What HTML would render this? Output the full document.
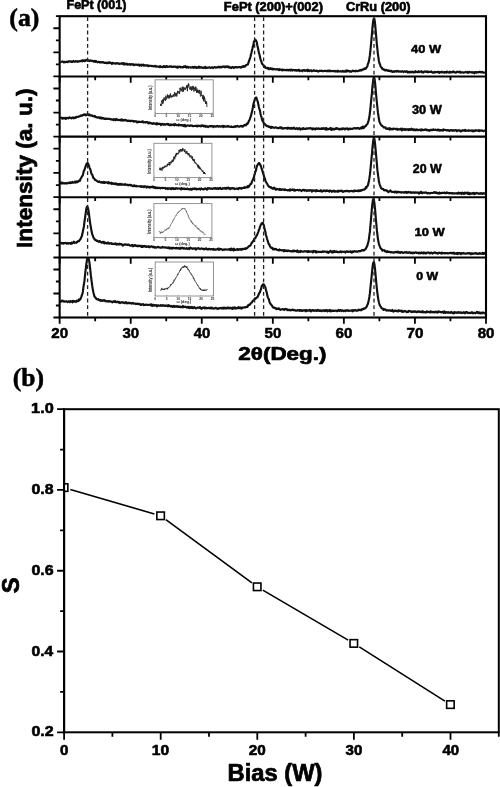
<!DOCTYPE html>
<html><head><meta charset="utf-8"><style>
html,body{margin:0;padding:0;background:#fff;}
svg{display:block;}
</style></head><body>
<svg width="500" height="787" viewBox="0 0 500 787">
<rect width="500" height="787" fill="#fff"/>
<g id="pa">
<polyline points="60.4,61.96 60.9,62.06 61.4,61.86 61.9,61.64 62.4,61.79 62.9,61.60 63.4,61.97 63.9,62.42 64.4,61.77 64.9,61.72 65.4,62.11 65.9,62.06 66.4,61.97 66.9,61.60 67.4,61.92 67.9,62.16 68.4,61.45 68.9,61.75 69.4,61.24 69.9,61.44 70.4,61.24 70.9,61.79 71.4,61.42 71.9,61.94 72.4,61.89 72.9,61.75 73.4,60.91 73.9,61.58 74.4,61.72 74.9,61.75 75.4,61.14 75.9,61.48 76.4,61.26 76.9,61.28 77.4,61.89 77.9,61.18 78.4,61.40 78.9,61.66 79.4,61.08 79.9,61.17 80.4,61.17 80.9,61.08 81.4,60.55 81.9,60.93 82.4,61.30 82.9,60.21 83.4,60.97 83.9,60.65 84.4,60.32 84.9,61.19 85.4,60.71 85.9,59.99 86.4,60.41 86.9,60.58 87.4,60.32 87.9,60.65 88.4,60.43 88.9,60.73 89.4,61.06 89.9,60.39 90.4,60.78 90.9,60.63 91.4,60.93 91.9,60.56 92.4,60.87 92.9,61.10 93.4,61.57 93.9,61.75 94.4,60.98 94.9,61.25 95.4,61.83 95.9,60.99 96.4,61.60 96.9,61.79 97.4,62.33 97.9,62.19 98.4,61.89 98.9,61.92 99.4,62.01 99.9,62.67 100.4,62.04 100.9,62.15 101.4,62.43 101.9,62.32 102.4,62.34 102.9,62.07 103.4,62.50 103.9,62.39 104.4,63.00 104.9,62.86 105.4,62.66 105.9,62.94 106.4,62.63 106.9,63.15 107.4,62.82 107.9,63.06 108.4,62.44 108.9,63.05 109.4,62.38 109.9,62.29 110.4,62.93 110.9,62.76 111.4,63.16 111.9,63.93 112.4,62.89 112.9,62.99 113.4,63.32 113.9,63.45 114.4,63.25 114.9,63.28 115.4,63.63 115.9,63.60 116.4,63.09 116.9,63.46 117.4,63.53 117.9,63.19 118.4,63.68 118.9,63.32 119.4,64.00 119.9,63.76 120.4,63.76 120.9,63.55 121.4,63.75 121.9,63.13 122.4,63.46 122.9,64.02 123.4,63.18 123.9,64.26 124.4,63.38 124.9,64.29 125.4,63.77 125.9,64.37 126.4,64.18 126.9,63.63 127.4,64.63 127.9,64.73 128.4,64.24 128.9,64.20 129.4,64.28 129.9,64.02 130.4,64.79 130.9,64.25 131.4,64.46 131.9,64.23 132.4,64.33 132.9,64.14 133.4,65.06 133.9,64.60 134.4,65.03 134.9,64.74 135.4,64.53 135.9,64.69 136.4,64.65 136.9,64.88 137.4,64.78 137.9,64.85 138.4,64.51 138.9,64.74 139.4,65.64 139.9,64.86 140.4,64.77 140.9,65.29 141.4,65.70 141.9,64.74 142.4,65.21 142.9,65.10 143.4,64.74 143.9,65.65 144.4,65.42 144.9,65.49 145.4,65.24 145.9,65.70 146.4,65.39 146.9,65.56 147.4,65.26 147.9,65.26 148.4,66.19 148.9,65.58 149.4,65.90 149.9,65.82 150.4,65.71 150.9,65.73 151.4,66.16 151.9,65.87 152.4,65.96 152.9,66.06 153.4,66.50 153.9,66.36 154.4,66.29 154.9,66.00 155.4,65.75 155.9,66.60 156.4,66.64 156.9,66.29 157.4,66.57 157.9,66.69 158.4,66.74 158.9,66.81 159.4,66.37 159.9,67.09 160.4,66.14 160.9,66.89 161.4,66.77 161.9,66.92 162.4,67.28 162.9,67.16 163.4,66.25 163.9,66.07 164.4,66.96 164.9,66.33 165.4,66.69 165.9,67.01 166.4,66.15 166.9,66.00 167.4,66.84 167.9,66.78 168.4,66.69 168.9,66.80 169.4,66.50 169.9,66.28 170.4,66.76 170.9,66.49 171.4,66.27 171.9,67.03 172.4,66.85 172.9,67.02 173.4,66.55 173.9,66.68 174.4,66.57 174.9,66.62 175.4,67.01 175.9,66.68 176.4,67.09 176.9,67.10 177.4,67.70 177.9,66.52 178.4,67.33 178.9,67.00 179.4,67.03 179.9,66.54 180.4,66.90 180.9,67.33 181.4,67.06 181.9,67.13 182.4,67.01 182.9,67.53 183.4,67.13 183.9,66.38 184.4,66.92 184.9,66.48 185.4,66.04 185.9,67.01 186.4,67.67 186.9,67.23 187.4,66.82 187.9,66.91 188.4,67.65 188.9,67.32 189.4,67.29 189.9,67.27 190.4,67.31 190.9,67.59 191.4,67.52 191.9,67.41 192.4,66.98 192.9,67.54 193.4,67.13 193.9,67.76 194.4,66.95 194.9,67.36 195.4,67.41 195.9,66.96 196.4,68.04 196.9,67.96 197.4,67.30 197.9,67.74 198.4,67.62 198.9,66.58 199.4,67.59 199.9,67.50 200.4,67.55 200.9,67.14 201.4,67.42 201.9,67.45 202.4,67.93 202.9,67.63 203.4,67.51 203.9,68.04 204.4,67.31 204.9,67.37 205.4,66.87 205.9,68.05 206.4,67.84 206.9,67.82 207.4,67.73 207.9,67.53 208.4,67.57 208.9,67.40 209.4,67.41 209.9,67.50 210.4,68.01 210.9,67.67 211.4,67.46 211.9,67.27 212.4,67.25 212.9,68.03 213.4,67.64 213.9,67.48 214.4,67.33 214.9,67.06 215.4,67.41 215.9,67.73 216.4,67.27 216.9,67.31 217.4,67.29 217.9,67.38 218.4,66.75 218.9,67.18 219.4,66.91 219.9,67.46 220.4,66.82 220.9,67.23 221.4,67.50 221.9,66.79 222.4,66.62 222.9,66.84 223.4,66.72 223.9,66.34 224.4,66.82 224.9,67.36 225.4,66.57 225.9,66.62 226.4,66.36 226.9,66.89 227.4,66.41 227.9,66.52 228.4,67.43 228.9,66.73 229.4,67.50 229.9,67.71 230.4,67.32 230.9,67.47 231.4,67.99 231.9,67.27 232.4,67.15 232.9,66.90 233.4,67.39 233.9,67.89 234.4,67.71 234.9,67.04 235.4,67.05 235.9,67.16 236.4,67.43 236.9,67.23 237.4,67.35 237.9,67.36 238.4,67.12 238.9,67.18 239.4,67.23 239.9,67.08 240.4,67.26 240.9,67.70 241.4,67.21 241.9,66.98 242.4,66.31 242.9,66.96 243.4,66.05 243.9,66.12 244.4,66.77 244.9,66.54 245.4,66.01 245.9,65.17 246.4,65.27 246.9,64.69 247.4,64.56 247.9,64.39 248.4,62.78 248.9,61.34 249.4,59.91 249.9,58.78 250.4,57.01 250.9,54.73 251.4,53.06 251.9,50.37 252.4,48.85 252.9,46.54 253.4,44.41 253.9,42.01 254.4,40.96 254.9,39.93 255.4,39.73 255.9,40.34 256.4,41.23 256.9,42.92 257.4,45.80 257.9,47.76 258.4,50.27 258.9,52.89 259.4,54.16 259.9,56.56 260.4,58.76 260.9,60.49 261.4,61.66 261.9,63.38 262.4,64.12 262.9,64.48 263.4,65.28 263.9,66.46 264.4,66.80 264.9,66.35 265.4,67.79 265.9,67.78 266.4,68.25 266.9,67.83 267.4,68.01 267.9,67.86 268.4,69.26 268.9,68.42 269.4,69.14 269.9,68.45 270.4,68.82 270.9,68.25 271.4,68.78 271.9,69.33 272.4,68.62 272.9,69.49 273.4,69.30 273.9,68.88 274.4,69.12 274.9,69.19 275.4,69.39 275.9,69.27 276.4,69.22 276.9,69.45 277.4,69.24 277.9,69.19 278.4,69.67 278.9,70.04 279.4,69.24 279.9,69.82 280.4,69.62 280.9,69.53 281.4,70.19 281.9,69.73 282.4,70.46 282.9,69.69 283.4,70.11 283.9,69.92 284.4,69.76 284.9,70.25 285.4,70.00 285.9,70.29 286.4,70.08 286.9,69.73 287.4,70.10 287.9,70.17 288.4,70.50 288.9,69.87 289.4,70.19 289.9,69.61 290.4,70.46 290.9,69.87 291.4,69.63 291.9,70.26 292.4,70.68 292.9,69.78 293.4,69.95 293.9,70.08 294.4,69.96 294.9,70.50 295.4,70.10 295.9,70.15 296.4,70.62 296.9,70.16 297.4,70.59 297.9,70.12 298.4,70.05 298.9,69.84 299.4,71.15 299.9,70.40 300.4,70.61 300.9,70.53 301.4,70.61 301.9,70.58 302.4,71.25 302.9,70.23 303.4,70.06 303.9,70.26 304.4,70.16 304.9,70.90 305.4,70.94 305.9,70.33 306.4,70.19 306.9,70.57 307.4,71.19 307.9,69.73 308.4,70.91 308.9,70.37 309.4,71.12 309.9,70.39 310.4,70.68 310.9,70.26 311.4,70.46 311.9,71.30 312.4,71.11 312.9,70.70 313.4,70.54 313.9,70.20 314.4,70.74 314.9,70.87 315.4,70.87 315.9,70.87 316.4,70.53 316.9,70.91 317.4,70.93 317.9,71.40 318.4,71.62 318.9,70.93 319.4,70.72 319.9,70.97 320.4,70.80 320.9,70.76 321.4,71.01 321.9,70.67 322.4,71.26 322.9,71.02 323.4,71.16 323.9,71.02 324.4,70.84 324.9,70.77 325.4,71.03 325.9,70.93 326.4,71.22 326.9,71.14 327.4,70.68 327.9,71.19 328.4,70.70 328.9,70.97 329.4,71.09 329.9,70.48 330.4,71.24 330.9,71.27 331.4,71.17 331.9,71.09 332.4,71.12 332.9,70.91 333.4,71.17 333.9,71.08 334.4,71.31 334.9,70.87 335.4,71.38 335.9,71.36 336.4,71.26 336.9,71.17 337.4,71.52 337.9,70.75 338.4,71.50 338.9,71.43 339.4,71.45 339.9,71.49 340.4,71.13 340.9,71.26 341.4,71.57 341.9,71.50 342.4,71.41 342.9,70.81 343.4,71.52 343.9,71.74 344.4,71.67 344.9,71.40 345.4,70.76 345.9,71.63 346.4,71.24 346.9,70.40 347.4,71.40 347.9,70.74 348.4,70.80 348.9,71.02 349.4,71.67 349.9,71.08 350.4,71.29 350.9,71.79 351.4,71.72 351.9,71.11 352.4,71.04 352.9,70.66 353.4,70.84 353.9,71.21 354.4,71.17 354.9,71.04 355.4,71.32 355.9,70.66 356.4,70.88 356.9,71.11 357.4,71.01 357.9,71.14 358.4,70.84 358.9,70.54 359.4,70.71 359.9,70.16 360.4,69.85 360.9,70.54 361.4,70.21 361.9,70.23 362.4,69.40 362.9,69.72 363.4,69.47 363.9,69.19 364.4,68.47 364.9,68.88 365.4,68.98 365.9,68.38 366.4,67.50 366.9,67.00 367.4,66.33 367.9,63.84 368.4,63.09 368.9,61.13 369.4,58.36 369.9,55.19 370.4,50.73 370.9,45.48 371.4,39.93 371.9,34.22 372.4,27.97 372.9,23.06 373.4,19.76 373.9,18.65 374.4,18.91 374.9,22.20 375.4,27.15 375.9,33.25 376.4,38.68 376.9,44.85 377.4,49.10 377.9,53.78 378.4,57.45 378.9,60.75 379.4,63.16 379.9,64.04 380.4,65.59 380.9,67.03 381.4,67.43 381.9,67.70 382.4,69.04 382.9,69.20 383.4,69.49 383.9,69.39 384.4,70.11 384.9,69.85 385.4,70.47 385.9,69.90 386.4,70.04 386.9,70.52 387.4,70.30 387.9,70.87 388.4,70.81 388.9,70.47 389.4,70.88 389.9,70.80 390.4,71.29 390.9,70.80 391.4,70.92 391.9,71.54 392.4,71.94 392.9,71.89 393.4,71.25 393.9,71.34 394.4,71.83 394.9,71.28 395.4,71.01 395.9,71.42 396.4,71.56 396.9,71.13 397.4,70.87 397.9,70.96 398.4,71.72 398.9,71.24 399.4,71.47 399.9,71.61 400.4,71.77 400.9,71.45 401.4,71.76 401.9,71.29 402.4,71.48 402.9,71.27 403.4,72.03 403.9,71.64 404.4,71.40 404.9,71.55 405.4,71.61 405.9,71.94 406.4,71.15 406.9,71.35 407.4,71.60 407.9,72.62 408.4,72.08 408.9,71.72 409.4,72.01 409.9,72.49 410.4,71.70 410.9,71.66 411.4,72.22 411.9,71.98 412.4,72.05 412.9,71.64 413.4,72.50 413.9,72.44 414.4,72.04 414.9,72.09 415.4,71.15 415.9,72.09 416.4,71.80 416.9,72.03 417.4,72.12 417.9,71.77 418.4,71.31 418.9,72.03 419.4,71.65 419.9,71.80 420.4,71.71 420.9,71.81 421.4,71.13 421.9,72.37 422.4,72.03 422.9,72.34 423.4,72.65 423.9,71.97 424.4,71.34 424.9,71.66 425.4,71.56 425.9,71.81 426.4,72.02 426.9,71.29 427.4,72.12 427.9,71.48 428.4,72.11 428.9,71.98 429.4,71.91 429.9,72.00 430.4,71.84 430.9,71.82 431.4,71.45 431.9,72.03 432.4,72.69 432.9,72.75 433.4,72.52 433.9,72.31 434.4,71.83 434.9,72.58 435.4,72.06 435.9,72.06 436.4,71.98 436.9,72.12 437.4,71.94 437.9,72.07 438.4,71.72 438.9,71.98 439.4,72.91 439.9,72.09 440.4,72.04 440.9,72.31 441.4,72.38 441.9,71.74 442.4,72.07 442.9,72.46 443.4,72.24 443.9,72.19 444.4,72.70 444.9,71.92 445.4,72.19 445.9,71.99 446.4,72.69 446.9,71.49 447.4,71.95 447.9,72.00 448.4,72.42 448.9,72.40 449.4,72.68 449.9,71.65 450.4,72.47 450.9,72.11 451.4,71.98 451.9,72.41 452.4,71.90 452.9,71.50 453.4,72.10 453.9,71.71 454.4,72.01 454.9,72.37 455.4,72.35 455.9,72.80 456.4,72.18 456.9,71.72 457.4,72.00 457.9,71.94 458.4,71.84 458.9,72.42 459.4,72.05 459.9,71.59 460.4,72.53 460.9,72.25 461.4,72.42 461.9,72.33 462.4,72.52 462.9,72.32 463.4,72.74 463.9,72.46 464.4,72.45 464.9,72.46 465.4,71.81 465.9,72.27 466.4,72.24 466.9,72.41 467.4,71.86 467.9,72.91 468.4,72.38 468.9,71.93 469.4,71.75 469.9,72.26 470.4,72.33 470.9,72.11 471.4,72.40 471.9,72.15 472.4,72.57 472.9,72.13 473.4,72.37 473.9,72.73 474.4,73.29 474.9,72.04 475.4,72.24 475.9,72.11 476.4,72.68 476.9,72.01 477.4,72.24 477.9,72.41 478.4,72.08 478.9,72.09 479.4,72.26 479.9,71.70 480.4,71.93 480.9,72.29 481.4,72.49 481.9,72.38 482.4,71.83 482.9,72.29 483.4,72.74 483.9,72.66 484.4,72.44 484.9,72.16" fill="none" stroke="#111" stroke-width="2.15" stroke-linejoin="round"/>
<polyline points="60.4,118.33 60.9,117.90 61.4,117.69 61.9,117.82 62.4,118.60 62.9,118.16 63.4,118.49 63.9,117.91 64.4,118.40 64.9,117.86 65.4,118.00 65.9,118.92 66.4,118.31 66.9,117.86 67.4,117.99 67.9,118.12 68.4,118.42 68.9,117.80 69.4,117.35 69.9,117.83 70.4,117.91 70.9,117.91 71.4,118.30 71.9,117.91 72.4,118.04 72.9,117.32 73.4,117.95 73.9,118.31 74.4,117.78 74.9,117.52 75.4,117.39 75.9,117.86 76.4,116.81 76.9,116.98 77.4,117.05 77.9,117.02 78.4,116.46 78.9,116.57 79.4,116.21 79.9,116.18 80.4,115.93 80.9,115.41 81.4,115.64 81.9,115.79 82.4,114.98 82.9,115.08 83.4,115.25 83.9,114.50 84.4,114.82 84.9,114.28 85.4,114.96 85.9,115.32 86.4,115.18 86.9,114.38 87.4,114.73 87.9,114.56 88.4,114.62 88.9,115.21 89.4,114.32 89.9,115.28 90.4,115.04 90.9,115.70 91.4,115.44 91.9,115.31 92.4,115.82 92.9,116.16 93.4,116.09 93.9,116.42 94.4,116.23 94.9,115.83 95.4,117.05 95.9,117.13 96.4,117.08 96.9,117.18 97.4,117.64 97.9,117.24 98.4,117.25 98.9,117.53 99.4,118.10 99.9,117.28 100.4,118.28 100.9,117.74 101.4,117.67 101.9,118.58 102.4,118.19 102.9,117.84 103.4,118.25 103.9,118.76 104.4,118.92 104.9,118.41 105.4,118.76 105.9,118.93 106.4,118.50 106.9,118.90 107.4,118.82 107.9,118.69 108.4,118.76 108.9,119.00 109.4,119.03 109.9,118.87 110.4,118.96 110.9,119.55 111.4,119.28 111.9,119.55 112.4,119.71 112.9,119.54 113.4,120.17 113.9,119.13 114.4,119.74 114.9,119.39 115.4,120.20 115.9,120.18 116.4,118.95 116.9,119.33 117.4,119.95 117.9,120.03 118.4,120.06 118.9,119.81 119.4,120.04 119.9,120.15 120.4,119.94 120.9,120.37 121.4,119.26 121.9,120.31 122.4,119.77 122.9,120.51 123.4,120.13 123.9,119.94 124.4,120.42 124.9,120.02 125.4,120.06 125.9,119.87 126.4,120.45 126.9,120.67 127.4,120.90 127.9,120.53 128.4,120.99 128.9,120.67 129.4,120.67 129.9,120.94 130.4,121.17 130.9,120.74 131.4,120.83 131.9,120.91 132.4,121.06 132.9,120.77 133.4,121.50 133.9,121.06 134.4,121.42 134.9,121.02 135.4,121.50 135.9,121.56 136.4,121.34 136.9,122.25 137.4,121.73 137.9,122.28 138.4,122.05 138.9,121.54 139.4,121.69 139.9,122.04 140.4,121.96 140.9,122.01 141.4,121.95 141.9,121.48 142.4,122.09 142.9,121.45 143.4,122.41 143.9,122.08 144.4,122.14 144.9,122.37 145.4,122.60 145.9,122.06 146.4,122.01 146.9,122.30 147.4,122.02 147.9,122.45 148.4,123.40 148.9,122.54 149.4,123.19 149.9,122.54 150.4,123.18 150.9,123.02 151.4,123.17 151.9,123.44 152.4,123.92 152.9,123.43 153.4,123.46 153.9,123.13 154.4,123.73 154.9,123.50 155.4,123.93 155.9,123.68 156.4,124.36 156.9,123.12 157.4,123.76 157.9,124.23 158.4,123.86 158.9,123.76 159.4,124.00 159.9,123.67 160.4,124.22 160.9,125.06 161.4,124.63 161.9,123.87 162.4,123.98 162.9,124.17 163.4,124.69 163.9,124.08 164.4,124.15 164.9,124.73 165.4,124.75 165.9,124.34 166.4,124.11 166.9,123.98 167.4,124.31 167.9,123.80 168.4,124.87 168.9,124.41 169.4,124.82 169.9,125.34 170.4,125.12 170.9,124.33 171.4,125.07 171.9,125.19 172.4,124.55 172.9,124.51 173.4,124.83 173.9,124.33 174.4,125.43 174.9,124.10 175.4,124.58 175.9,124.90 176.4,124.94 176.9,125.11 177.4,125.17 177.9,125.03 178.4,125.53 178.9,124.41 179.4,125.18 179.9,124.96 180.4,125.28 180.9,125.34 181.4,124.97 181.9,125.09 182.4,125.62 182.9,125.49 183.4,125.15 183.9,126.13 184.4,126.25 184.9,124.96 185.4,125.60 185.9,126.40 186.4,125.82 186.9,125.65 187.4,125.53 187.9,125.43 188.4,125.58 188.9,125.48 189.4,125.96 189.9,125.59 190.4,125.59 190.9,125.34 191.4,125.75 191.9,125.47 192.4,125.74 192.9,126.18 193.4,125.96 193.9,126.02 194.4,125.98 194.9,125.89 195.4,125.84 195.9,125.79 196.4,126.18 196.9,125.55 197.4,126.41 197.9,125.96 198.4,125.70 198.9,125.81 199.4,125.76 199.9,126.06 200.4,125.77 200.9,126.43 201.4,125.77 201.9,125.27 202.4,125.82 202.9,125.38 203.4,126.09 203.9,126.48 204.4,126.35 204.9,125.67 205.4,125.89 205.9,126.79 206.4,126.29 206.9,126.19 207.4,126.58 207.9,127.08 208.4,126.68 208.9,126.29 209.4,126.38 209.9,126.48 210.4,126.07 210.9,125.92 211.4,126.32 211.9,125.99 212.4,126.31 212.9,126.38 213.4,127.17 213.9,126.07 214.4,126.33 214.9,126.33 215.4,126.55 215.9,126.78 216.4,126.25 216.9,126.15 217.4,125.87 217.9,126.13 218.4,126.65 218.9,126.49 219.4,126.13 219.9,126.37 220.4,126.52 220.9,126.69 221.4,126.32 221.9,126.45 222.4,125.91 222.9,126.15 223.4,127.12 223.9,125.80 224.4,126.46 224.9,126.66 225.4,126.46 225.9,126.31 226.4,126.58 226.9,126.60 227.4,126.58 227.9,125.96 228.4,126.57 228.9,126.32 229.4,126.43 229.9,126.71 230.4,126.85 230.9,126.94 231.4,126.45 231.9,126.94 232.4,127.02 232.9,127.00 233.4,127.09 233.9,126.54 234.4,126.52 234.9,126.86 235.4,126.08 235.9,126.62 236.4,126.34 236.9,126.38 237.4,125.88 237.9,126.15 238.4,126.43 238.9,126.72 239.4,126.72 239.9,126.31 240.4,126.23 240.9,125.95 241.4,126.33 241.9,126.04 242.4,126.26 242.9,126.58 243.4,125.85 243.9,125.22 244.4,125.30 244.9,124.91 245.4,124.78 245.9,125.39 246.4,124.67 246.9,123.63 247.4,123.87 247.9,123.44 248.4,122.08 248.9,121.01 249.4,119.99 249.9,118.88 250.4,117.47 250.9,115.92 251.4,114.00 251.9,111.89 252.4,109.72 252.9,107.18 253.4,104.13 253.9,102.46 254.4,100.69 254.9,98.92 255.4,98.36 255.9,97.53 256.4,97.61 256.9,99.36 257.4,100.55 257.9,102.27 258.4,104.67 258.9,107.01 259.4,109.08 259.9,110.37 260.4,113.15 260.9,115.22 261.4,116.85 261.9,118.86 262.4,120.61 262.9,121.22 263.4,122.01 263.9,123.96 264.4,123.79 264.9,124.09 265.4,125.08 265.9,125.52 266.4,125.44 266.9,126.22 267.4,125.98 267.9,126.00 268.4,126.54 268.9,126.88 269.4,126.50 269.9,126.94 270.4,126.88 270.9,127.98 271.4,126.82 271.9,127.62 272.4,127.18 272.9,127.22 273.4,127.57 273.9,127.69 274.4,127.87 274.9,127.58 275.4,127.30 275.9,127.37 276.4,127.77 276.9,127.84 277.4,128.16 277.9,127.85 278.4,128.11 278.9,128.30 279.4,127.86 279.9,127.31 280.4,127.45 280.9,127.39 281.4,128.48 281.9,127.65 282.4,128.40 282.9,128.20 283.4,128.62 283.9,128.40 284.4,128.03 284.9,128.02 285.4,128.14 285.9,128.20 286.4,127.97 286.9,128.16 287.4,128.76 287.9,127.62 288.4,128.33 288.9,127.94 289.4,128.34 289.9,128.59 290.4,128.29 290.9,128.60 291.4,127.79 291.9,128.75 292.4,128.17 292.9,128.62 293.4,128.48 293.9,127.53 294.4,128.19 294.9,128.55 295.4,129.03 295.9,128.60 296.4,128.61 296.9,128.04 297.4,129.05 297.9,129.20 298.4,128.59 298.9,128.52 299.4,128.04 299.9,128.94 300.4,129.58 300.9,128.89 301.4,129.09 301.9,128.84 302.4,128.31 302.9,129.13 303.4,128.24 303.9,128.60 304.4,128.78 304.9,128.99 305.4,128.84 305.9,128.83 306.4,128.44 306.9,128.26 307.4,128.73 307.9,128.47 308.4,128.26 308.9,128.28 309.4,128.56 309.9,128.09 310.4,128.27 310.9,128.17 311.4,128.81 311.9,128.90 312.4,129.46 312.9,128.24 313.4,128.53 313.9,129.09 314.4,128.70 314.9,128.67 315.4,129.38 315.9,128.67 316.4,128.39 316.9,128.33 317.4,128.92 317.9,128.91 318.4,128.33 318.9,128.47 319.4,129.00 319.9,129.02 320.4,128.60 320.9,129.04 321.4,129.03 321.9,128.21 322.4,128.73 322.9,128.98 323.4,128.64 323.9,128.09 324.4,128.75 324.9,129.11 325.4,129.41 325.9,128.09 326.4,129.77 326.9,128.47 327.4,129.20 327.9,129.30 328.4,129.21 328.9,128.92 329.4,128.46 329.9,129.09 330.4,128.62 330.9,127.99 331.4,129.87 331.9,129.13 332.4,129.52 332.9,128.56 333.4,129.40 333.9,129.44 334.4,129.43 334.9,128.88 335.4,128.47 335.9,128.82 336.4,128.12 336.9,128.29 337.4,128.92 337.9,128.54 338.4,128.83 338.9,128.85 339.4,129.56 339.9,129.34 340.4,128.87 340.9,129.30 341.4,128.60 341.9,128.76 342.4,129.19 342.9,128.43 343.4,128.77 343.9,128.40 344.4,128.90 344.9,129.42 345.4,128.58 345.9,128.92 346.4,128.52 346.9,128.43 347.4,128.39 347.9,129.32 348.4,129.63 348.9,128.96 349.4,128.53 349.9,129.02 350.4,128.64 350.9,129.03 351.4,128.83 351.9,128.81 352.4,128.91 352.9,128.48 353.4,128.52 353.9,128.03 354.4,128.46 354.9,128.09 355.4,128.50 355.9,128.19 356.4,128.52 356.9,128.61 357.4,127.91 357.9,128.08 358.4,127.98 358.9,128.51 359.4,128.79 359.9,128.42 360.4,127.92 360.9,128.47 361.4,127.33 361.9,128.28 362.4,127.40 362.9,126.52 363.4,128.26 363.9,127.70 364.4,126.57 364.9,126.74 365.4,126.28 365.9,125.99 366.4,124.92 366.9,124.52 367.4,124.02 367.9,122.72 368.4,121.44 368.9,118.93 369.4,117.00 369.9,112.53 370.4,108.75 370.9,103.19 371.4,98.06 371.9,93.29 372.4,86.90 372.9,82.50 373.4,78.79 373.9,77.25 374.4,78.23 374.9,81.32 375.4,86.03 375.9,91.98 376.4,97.65 376.9,102.68 377.4,107.49 377.9,112.18 378.4,115.59 378.9,118.85 379.4,121.66 379.9,122.75 380.4,123.73 380.9,124.66 381.4,125.15 381.9,125.68 382.4,126.08 382.9,126.63 383.4,126.89 383.9,127.54 384.4,127.33 384.9,127.58 385.4,127.37 385.9,128.51 386.4,128.23 386.9,128.78 387.4,128.53 387.9,128.86 388.4,128.33 388.9,128.74 389.4,129.50 389.9,128.19 390.4,129.08 390.9,129.32 391.4,128.92 391.9,129.08 392.4,129.30 392.9,128.66 393.4,129.08 393.9,128.65 394.4,128.75 394.9,128.80 395.4,129.00 395.9,129.13 396.4,129.26 396.9,128.62 397.4,129.86 397.9,129.58 398.4,129.45 398.9,129.08 399.4,129.19 399.9,129.44 400.4,129.41 400.9,128.68 401.4,129.57 401.9,130.37 402.4,128.68 402.9,129.72 403.4,129.51 403.9,129.35 404.4,129.90 404.9,129.00 405.4,129.50 405.9,129.98 406.4,129.40 406.9,129.34 407.4,129.54 407.9,129.36 408.4,130.09 408.9,129.22 409.4,129.87 409.9,129.12 410.4,129.82 410.9,129.56 411.4,128.68 411.9,129.62 412.4,129.25 412.9,129.49 413.4,130.21 413.9,129.27 414.4,129.30 414.9,130.21 415.4,129.75 415.9,130.27 416.4,129.84 416.9,129.42 417.4,129.73 417.9,130.20 418.4,130.11 418.9,129.78 419.4,129.81 419.9,129.76 420.4,129.61 420.9,130.52 421.4,129.84 421.9,129.44 422.4,129.68 422.9,130.13 423.4,130.11 423.9,129.84 424.4,129.66 424.9,129.92 425.4,129.31 425.9,129.46 426.4,130.22 426.9,129.77 427.4,130.09 427.9,130.40 428.4,130.21 428.9,129.99 429.4,130.76 429.9,130.24 430.4,129.89 430.9,130.29 431.4,130.18 431.9,129.73 432.4,130.08 432.9,130.00 433.4,129.36 433.9,130.02 434.4,129.99 434.9,129.94 435.4,129.52 435.9,129.99 436.4,130.11 436.9,130.17 437.4,129.73 437.9,130.38 438.4,129.72 438.9,130.09 439.4,130.65 439.9,129.94 440.4,130.01 440.9,130.59 441.4,130.08 441.9,130.12 442.4,130.31 442.9,130.62 443.4,129.46 443.9,129.96 444.4,129.91 444.9,129.89 445.4,129.98 445.9,129.99 446.4,130.41 446.9,129.99 447.4,130.37 447.9,130.47 448.4,130.08 448.9,130.39 449.4,130.94 449.9,130.48 450.4,130.15 450.9,130.36 451.4,130.06 451.9,130.50 452.4,130.72 452.9,130.12 453.4,130.35 453.9,130.83 454.4,130.27 454.9,130.52 455.4,130.09 455.9,130.18 456.4,130.29 456.9,131.25 457.4,130.35 457.9,130.32 458.4,130.32 458.9,130.46 459.4,130.76 459.9,130.60 460.4,131.27 460.9,130.63 461.4,131.07 461.9,130.67 462.4,130.79 462.9,130.08 463.4,130.55 463.9,130.58 464.4,130.53 464.9,129.87 465.4,130.94 465.9,130.50 466.4,130.49 466.9,130.57 467.4,130.59 467.9,130.82 468.4,130.24 468.9,130.36 469.4,130.80 469.9,130.76 470.4,130.58 470.9,130.52 471.4,130.44 471.9,130.72 472.4,131.16 472.9,130.39 473.4,131.30 473.9,131.07 474.4,130.62 474.9,131.07 475.4,130.29 475.9,130.20 476.4,130.37 476.9,130.68 477.4,130.72 477.9,130.66 478.4,130.88 478.9,130.11 479.4,131.04 479.9,130.38 480.4,130.65 480.9,130.75 481.4,130.50 481.9,130.43 482.4,130.56 482.9,130.92 483.4,131.14 483.9,131.14 484.4,130.60 484.9,130.68" fill="none" stroke="#111" stroke-width="2.15" stroke-linejoin="round"/>
<polyline points="60.4,182.86 60.9,183.33 61.4,182.45 61.9,183.58 62.4,182.96 62.9,182.85 63.4,183.22 63.9,183.45 64.4,183.19 64.9,183.42 65.4,183.09 65.9,183.45 66.4,183.44 66.9,182.95 67.4,183.46 67.9,182.99 68.4,182.94 68.9,182.56 69.4,182.76 69.9,183.10 70.4,182.34 70.9,182.99 71.4,182.85 71.9,182.79 72.4,181.88 72.9,182.57 73.4,182.78 73.9,182.23 74.4,182.46 74.9,181.53 75.4,182.51 75.9,181.95 76.4,182.37 76.9,181.28 77.4,182.00 77.9,181.46 78.4,181.57 78.9,180.64 79.4,180.34 79.9,180.84 80.4,179.15 80.9,178.45 81.4,177.72 81.9,176.43 82.4,176.03 82.9,174.90 83.4,172.61 83.9,170.72 84.4,170.15 84.9,168.54 85.4,166.93 85.9,165.72 86.4,163.96 86.9,163.54 87.4,162.91 87.9,163.16 88.4,164.71 88.9,165.20 89.4,167.57 89.9,168.28 90.4,169.59 90.9,171.63 91.4,173.46 91.9,174.38 92.4,175.03 92.9,176.69 93.4,178.00 93.9,178.16 94.4,178.74 94.9,179.92 95.4,180.11 95.9,180.08 96.4,180.67 96.9,180.81 97.4,181.40 97.9,181.52 98.4,182.04 98.9,182.02 99.4,181.34 99.9,182.13 100.4,182.39 100.9,182.32 101.4,182.60 101.9,182.11 102.4,182.04 102.9,182.76 103.4,182.12 103.9,181.80 104.4,182.97 104.9,182.41 105.4,182.60 105.9,182.27 106.4,182.34 106.9,182.45 107.4,182.77 107.9,183.07 108.4,182.17 108.9,183.28 109.4,182.65 109.9,182.72 110.4,183.39 110.9,183.19 111.4,182.74 111.9,183.98 112.4,183.10 112.9,183.54 113.4,183.58 113.9,184.07 114.4,183.47 114.9,184.04 115.4,183.48 115.9,184.19 116.4,183.59 116.9,183.78 117.4,184.63 117.9,184.13 118.4,184.11 118.9,184.91 119.4,184.31 119.9,183.95 120.4,184.55 120.9,183.93 121.4,184.79 121.9,184.87 122.4,184.30 122.9,184.34 123.4,184.67 123.9,184.67 124.4,184.37 124.9,184.97 125.4,184.11 125.9,184.72 126.4,184.79 126.9,184.88 127.4,185.14 127.9,184.65 128.4,185.34 128.9,185.12 129.4,185.01 129.9,184.81 130.4,184.92 130.9,185.51 131.4,185.09 131.9,185.49 132.4,185.89 132.9,185.92 133.4,186.15 133.9,185.55 134.4,185.31 134.9,186.10 135.4,185.89 135.9,186.22 136.4,185.88 136.9,186.33 137.4,186.26 137.9,186.26 138.4,186.23 138.9,186.23 139.4,186.22 139.9,186.26 140.4,186.57 140.9,186.09 141.4,186.92 141.9,186.32 142.4,186.75 142.9,186.41 143.4,186.40 143.9,187.24 144.4,186.47 144.9,186.17 145.4,186.42 145.9,186.60 146.4,187.51 146.9,186.87 147.4,187.17 147.9,186.53 148.4,187.05 148.9,187.21 149.4,187.65 149.9,186.82 150.4,187.31 150.9,187.25 151.4,186.83 151.9,187.23 152.4,187.18 152.9,186.51 153.4,187.57 153.9,187.60 154.4,187.30 154.9,187.03 155.4,188.06 155.9,187.67 156.4,187.98 156.9,188.16 157.4,187.53 157.9,188.04 158.4,187.71 158.9,187.82 159.4,187.86 159.9,187.93 160.4,188.34 160.9,188.01 161.4,187.94 161.9,187.91 162.4,188.15 162.9,187.74 163.4,187.90 163.9,188.07 164.4,187.91 164.9,188.09 165.4,187.94 165.9,188.87 166.4,188.66 166.9,188.37 167.4,188.21 167.9,189.02 168.4,188.38 168.9,188.26 169.4,188.42 169.9,188.44 170.4,188.84 170.9,188.36 171.4,189.12 171.9,188.10 172.4,188.67 172.9,188.10 173.4,189.10 173.9,188.37 174.4,188.49 174.9,188.85 175.4,188.99 175.9,188.18 176.4,188.46 176.9,188.12 177.4,188.67 177.9,188.61 178.4,188.54 178.9,188.44 179.4,188.57 179.9,188.46 180.4,188.93 180.9,189.29 181.4,188.10 181.9,188.76 182.4,188.67 182.9,189.01 183.4,188.52 183.9,188.83 184.4,188.53 184.9,189.16 185.4,188.97 185.9,188.90 186.4,189.10 186.9,188.91 187.4,188.47 187.9,189.24 188.4,189.15 188.9,189.02 189.4,189.43 189.9,189.53 190.4,188.72 190.9,188.82 191.4,189.62 191.9,189.57 192.4,188.80 192.9,188.64 193.4,188.82 193.9,188.86 194.4,188.47 194.9,189.03 195.4,188.56 195.9,188.57 196.4,189.31 196.9,188.74 197.4,188.94 197.9,189.18 198.4,189.23 198.9,188.82 199.4,188.94 199.9,188.63 200.4,189.52 200.9,189.12 201.4,188.50 201.9,188.88 202.4,189.11 202.9,189.02 203.4,189.48 203.9,189.31 204.4,188.63 204.9,188.78 205.4,188.35 205.9,188.88 206.4,188.83 206.9,189.72 207.4,188.79 207.9,188.02 208.4,188.50 208.9,188.77 209.4,188.28 209.9,188.40 210.4,188.56 210.9,188.80 211.4,188.61 211.9,188.35 212.4,188.92 212.9,188.45 213.4,188.45 213.9,188.13 214.4,188.32 214.9,188.81 215.4,188.01 215.9,188.54 216.4,188.80 216.9,188.40 217.4,188.61 217.9,188.12 218.4,188.95 218.9,188.87 219.4,188.55 219.9,187.84 220.4,188.08 220.9,188.77 221.4,189.01 221.9,188.50 222.4,188.82 222.9,188.16 223.4,188.29 223.9,188.34 224.4,188.47 224.9,187.77 225.4,188.64 225.9,188.79 226.4,187.93 226.9,187.87 227.4,188.48 227.9,188.14 228.4,187.55 228.9,188.67 229.4,188.45 229.9,188.23 230.4,189.15 230.9,188.46 231.4,188.16 231.9,188.46 232.4,188.06 232.9,188.16 233.4,188.57 233.9,188.24 234.4,188.28 234.9,189.02 235.4,188.73 235.9,188.71 236.4,188.61 236.9,188.59 237.4,188.92 237.9,188.39 238.4,189.03 238.9,188.04 239.4,188.26 239.9,187.85 240.4,188.18 240.9,188.45 241.4,188.74 241.9,187.95 242.4,188.14 242.9,187.95 243.4,187.76 243.9,187.53 244.4,187.89 244.9,187.17 245.4,187.70 245.9,187.54 246.4,187.15 246.9,186.85 247.4,186.50 247.9,187.38 248.4,185.94 248.9,186.58 249.4,185.80 249.9,184.94 250.4,184.03 250.9,184.07 251.4,183.47 251.9,181.57 252.4,180.69 252.9,179.93 253.4,178.32 253.9,177.42 254.4,174.93 254.9,173.65 255.4,171.30 255.9,170.73 256.4,168.06 256.9,165.96 257.4,165.30 257.9,164.19 258.4,164.15 258.9,163.02 259.4,163.24 259.9,163.98 260.4,165.26 260.9,165.94 261.4,167.82 261.9,169.29 262.4,170.74 262.9,172.64 263.4,174.35 263.9,175.68 264.4,178.00 264.9,178.55 265.4,180.78 265.9,181.90 266.4,182.60 266.9,183.31 267.4,184.32 267.9,185.27 268.4,185.98 268.9,186.34 269.4,187.02 269.9,186.85 270.4,187.44 270.9,187.07 271.4,188.11 271.9,188.09 272.4,188.06 272.9,188.75 273.4,188.72 273.9,187.60 274.4,188.70 274.9,188.27 275.4,189.23 275.9,189.80 276.4,188.82 276.9,189.09 277.4,189.04 277.9,189.31 278.4,189.46 278.9,189.74 279.4,188.99 279.9,189.93 280.4,189.10 280.9,189.56 281.4,189.91 281.9,189.79 282.4,189.25 282.9,189.37 283.4,189.48 283.9,189.66 284.4,190.11 284.9,189.28 285.4,189.93 285.9,190.01 286.4,190.02 286.9,190.01 287.4,190.40 287.9,190.07 288.4,190.22 288.9,190.14 289.4,190.59 289.9,189.32 290.4,190.46 290.9,189.94 291.4,189.95 291.9,189.73 292.4,189.44 292.9,189.98 293.4,189.89 293.9,190.32 294.4,189.65 294.9,190.69 295.4,190.30 295.9,190.14 296.4,189.99 296.9,189.98 297.4,189.88 297.9,190.10 298.4,190.31 298.9,190.26 299.4,189.84 299.9,190.26 300.4,190.06 300.9,190.44 301.4,191.05 301.9,190.63 302.4,190.31 302.9,189.87 303.4,189.96 303.9,189.87 304.4,190.73 304.9,190.22 305.4,190.52 305.9,190.30 306.4,190.56 306.9,191.03 307.4,190.31 307.9,190.44 308.4,190.29 308.9,190.89 309.4,190.24 309.9,190.21 310.4,190.14 310.9,190.14 311.4,190.81 311.9,191.55 312.4,190.32 312.9,191.01 313.4,190.78 313.9,190.31 314.4,190.61 314.9,190.64 315.4,190.49 315.9,191.42 316.4,190.09 316.9,190.90 317.4,190.89 317.9,190.58 318.4,190.85 318.9,191.11 319.4,190.87 319.9,190.97 320.4,191.08 320.9,190.13 321.4,191.37 321.9,191.66 322.4,191.22 322.9,191.24 323.4,190.40 323.9,190.86 324.4,190.63 324.9,190.71 325.4,191.27 325.9,190.66 326.4,190.90 326.9,190.29 327.4,190.91 327.9,191.00 328.4,190.73 328.9,190.74 329.4,191.66 329.9,190.58 330.4,190.65 330.9,190.74 331.4,191.45 331.9,191.77 332.4,191.16 332.9,190.80 333.4,190.91 333.9,191.44 334.4,190.75 334.9,191.59 335.4,191.58 335.9,191.12 336.4,191.33 336.9,191.37 337.4,191.66 337.9,190.75 338.4,191.54 338.9,191.00 339.4,190.86 339.9,191.17 340.4,191.07 340.9,190.80 341.4,190.59 341.9,190.82 342.4,191.66 342.9,191.85 343.4,191.39 343.9,191.58 344.4,190.98 344.9,191.14 345.4,191.27 345.9,190.79 346.4,190.82 346.9,191.20 347.4,191.05 347.9,190.79 348.4,191.29 348.9,191.06 349.4,191.51 349.9,191.14 350.4,191.03 350.9,191.17 351.4,191.06 351.9,190.87 352.4,190.95 352.9,191.34 353.4,191.29 353.9,191.50 354.4,190.43 354.9,190.87 355.4,190.84 355.9,191.01 356.4,190.76 356.9,190.71 357.4,191.12 357.9,190.87 358.4,190.35 358.9,191.18 359.4,191.00 359.9,190.38 360.4,190.80 360.9,190.17 361.4,190.72 361.9,190.15 362.4,189.82 362.9,189.83 363.4,189.54 363.9,189.69 364.4,189.46 364.9,189.15 365.4,188.62 365.9,187.12 366.4,187.90 366.9,186.50 367.4,186.31 367.9,185.36 368.4,183.38 368.9,180.94 369.4,178.18 369.9,174.66 370.4,170.23 370.9,165.22 371.4,159.52 371.9,154.35 372.4,148.10 372.9,143.33 373.4,139.26 373.9,137.89 374.4,138.82 374.9,142.32 375.4,147.36 375.9,152.91 376.4,158.54 376.9,164.20 377.4,170.20 377.9,173.97 378.4,177.68 378.9,181.28 379.4,183.49 379.9,185.10 380.4,186.12 380.9,188.11 381.4,188.18 381.9,188.82 382.4,189.02 382.9,188.95 383.4,189.27 383.9,190.13 384.4,190.33 384.9,190.30 385.4,190.13 385.9,190.19 386.4,190.70 386.9,190.43 387.4,191.36 387.9,191.54 388.4,192.22 388.9,191.62 389.4,191.18 389.9,191.15 390.4,190.31 390.9,191.37 391.4,191.57 391.9,192.02 392.4,191.94 392.9,191.98 393.4,191.89 393.9,192.09 394.4,192.41 394.9,191.56 395.4,191.81 395.9,191.52 396.4,192.60 396.9,192.52 397.4,192.36 397.9,191.70 398.4,192.21 398.9,192.09 399.4,192.23 399.9,192.16 400.4,192.42 400.9,192.12 401.4,192.58 401.9,192.38 402.4,192.21 402.9,192.29 403.4,192.19 403.9,192.64 404.4,192.28 404.9,192.49 405.4,192.26 405.9,191.90 406.4,192.75 406.9,192.07 407.4,192.69 407.9,192.61 408.4,191.90 408.9,192.16 409.4,192.32 409.9,192.23 410.4,192.11 410.9,192.79 411.4,192.46 411.9,192.69 412.4,192.41 412.9,192.68 413.4,192.32 413.9,192.59 414.4,192.81 414.9,192.63 415.4,192.46 415.9,192.25 416.4,192.70 416.9,192.77 417.4,192.57 417.9,192.40 418.4,192.87 418.9,193.55 419.4,192.59 419.9,192.82 420.4,192.84 420.9,191.82 421.4,192.77 421.9,192.49 422.4,193.23 422.9,192.66 423.4,192.49 423.9,192.69 424.4,192.83 424.9,192.59 425.4,192.77 425.9,192.32 426.4,192.73 426.9,193.09 427.4,193.51 427.9,193.08 428.4,192.93 428.9,193.26 429.4,193.21 429.9,193.44 430.4,193.24 430.9,192.83 431.4,192.97 431.9,192.95 432.4,193.00 432.9,192.97 433.4,192.63 433.9,192.18 434.4,192.69 434.9,192.22 435.4,192.96 435.9,192.94 436.4,192.36 436.9,193.20 437.4,193.27 437.9,193.00 438.4,193.56 438.9,193.64 439.4,192.57 439.9,193.36 440.4,193.16 440.9,193.16 441.4,193.34 441.9,192.77 442.4,192.82 442.9,192.75 443.4,192.78 443.9,193.02 444.4,192.55 444.9,192.70 445.4,193.27 445.9,193.05 446.4,193.22 446.9,192.43 447.4,192.82 447.9,192.91 448.4,193.12 448.9,192.91 449.4,193.45 449.9,193.11 450.4,193.14 450.9,193.15 451.4,193.40 451.9,192.99 452.4,193.55 452.9,193.33 453.4,193.23 453.9,193.19 454.4,193.37 454.9,193.55 455.4,193.53 455.9,193.34 456.4,193.52 456.9,193.26 457.4,193.66 457.9,193.22 458.4,192.51 458.9,193.71 459.4,193.29 459.9,192.84 460.4,193.19 460.9,192.96 461.4,194.01 461.9,193.45 462.4,192.74 462.9,193.48 463.4,193.16 463.9,193.98 464.4,192.94 464.9,192.53 465.4,193.35 465.9,193.21 466.4,193.19 466.9,192.59 467.4,193.50 467.9,193.94 468.4,192.69 468.9,193.78 469.4,193.17 469.9,194.20 470.4,193.54 470.9,193.32 471.4,193.78 471.9,193.59 472.4,193.20 472.9,193.66 473.4,193.24 473.9,192.80 474.4,194.14 474.9,193.32 475.4,193.23 475.9,193.57 476.4,192.91 476.9,192.99 477.4,193.30 477.9,193.29 478.4,193.51 478.9,193.88 479.4,193.33 479.9,193.67 480.4,193.72 480.9,193.13 481.4,193.60 481.9,193.19 482.4,193.90 482.9,193.70 483.4,193.55 483.9,193.08 484.4,193.60 484.9,193.29" fill="none" stroke="#111" stroke-width="2.15" stroke-linejoin="round"/>
<polyline points="60.4,243.46 60.9,243.17 61.4,242.93 61.9,243.54 62.4,243.46 62.9,243.00 63.4,243.61 63.9,243.09 64.4,243.08 64.9,243.23 65.4,242.91 65.9,243.01 66.4,243.10 66.9,243.68 67.4,243.65 67.9,243.02 68.4,243.66 68.9,243.06 69.4,243.18 69.9,243.33 70.4,243.10 70.9,243.81 71.4,243.01 71.9,242.47 72.4,243.30 72.9,242.65 73.4,242.63 73.9,241.62 74.4,242.95 74.9,242.80 75.4,242.67 75.9,242.60 76.4,242.70 76.9,241.92 77.4,242.06 77.9,241.24 78.4,241.10 78.9,241.26 79.4,240.61 79.9,239.47 80.4,239.38 80.9,238.31 81.4,236.95 81.9,235.94 82.4,233.84 82.9,231.21 83.4,228.72 83.9,226.65 84.4,222.04 84.9,218.92 85.4,215.28 85.9,211.75 86.4,208.23 86.9,206.77 87.4,206.61 87.9,208.02 88.4,209.96 88.9,213.06 89.4,217.50 89.9,221.28 90.4,224.56 90.9,227.42 91.4,230.56 91.9,232.81 92.4,234.99 92.9,235.81 93.4,237.50 93.9,238.34 94.4,238.72 94.9,239.73 95.4,240.09 95.9,240.26 96.4,240.80 96.9,240.38 97.4,241.02 97.9,241.34 98.4,241.40 98.9,241.78 99.4,241.07 99.9,241.04 100.4,241.78 100.9,241.97 101.4,242.67 101.9,242.25 102.4,241.82 102.9,242.51 103.4,242.02 103.9,241.88 104.4,243.40 104.9,242.68 105.4,242.89 105.9,242.91 106.4,243.42 106.9,242.95 107.4,243.35 107.9,242.63 108.4,242.56 108.9,243.61 109.4,243.69 109.9,243.41 110.4,243.37 110.9,243.41 111.4,243.17 111.9,244.00 112.4,243.75 112.9,243.75 113.4,243.76 113.9,244.05 114.4,243.91 114.9,244.05 115.4,243.43 115.9,244.07 116.4,244.71 116.9,243.81 117.4,244.00 117.9,244.40 118.4,244.47 118.9,244.41 119.4,243.67 119.9,244.46 120.4,243.92 120.9,244.09 121.4,244.62 121.9,244.37 122.4,244.81 122.9,245.67 123.4,244.89 123.9,244.92 124.4,244.40 124.9,244.53 125.4,244.43 125.9,244.66 126.4,244.51 126.9,244.71 127.4,244.91 127.9,244.68 128.4,244.58 128.9,244.65 129.4,245.33 129.9,245.23 130.4,245.62 130.9,245.67 131.4,245.23 131.9,245.63 132.4,244.93 132.9,246.28 133.4,245.94 133.9,245.49 134.4,245.21 134.9,245.79 135.4,245.05 135.9,245.47 136.4,246.05 136.9,245.86 137.4,245.71 137.9,246.25 138.4,245.60 138.9,246.11 139.4,245.88 139.9,245.80 140.4,246.30 140.9,245.82 141.4,246.87 141.9,246.04 142.4,246.98 142.9,245.93 143.4,246.56 143.9,245.97 144.4,245.95 144.9,246.51 145.4,246.73 145.9,246.08 146.4,246.98 146.9,246.32 147.4,246.68 147.9,246.81 148.4,246.92 148.9,246.12 149.4,247.35 149.9,247.01 150.4,246.70 150.9,246.53 151.4,246.33 151.9,246.48 152.4,247.18 152.9,246.91 153.4,246.67 153.9,246.92 154.4,247.68 154.9,247.06 155.4,247.00 155.9,247.71 156.4,247.44 156.9,247.33 157.4,247.13 157.9,246.84 158.4,247.01 158.9,247.29 159.4,247.41 159.9,247.65 160.4,247.74 160.9,247.64 161.4,247.65 161.9,247.24 162.4,246.86 162.9,247.44 163.4,247.31 163.9,247.43 164.4,247.58 164.9,247.26 165.4,247.32 165.9,247.69 166.4,247.78 166.9,247.53 167.4,247.95 167.9,247.72 168.4,247.45 168.9,247.84 169.4,248.50 169.9,247.62 170.4,248.29 170.9,248.38 171.4,248.44 171.9,247.64 172.4,248.65 172.9,248.00 173.4,247.89 173.9,247.91 174.4,248.22 174.9,248.04 175.4,247.98 175.9,248.51 176.4,247.82 176.9,247.73 177.4,248.39 177.9,248.37 178.4,248.52 178.9,247.78 179.4,248.55 179.9,248.36 180.4,248.82 180.9,247.79 181.4,248.32 181.9,248.16 182.4,247.72 182.9,248.04 183.4,248.70 183.9,248.16 184.4,248.08 184.9,248.66 185.4,248.72 185.9,248.73 186.4,248.13 186.9,248.40 187.4,248.80 187.9,248.22 188.4,248.20 188.9,248.77 189.4,249.05 189.9,248.11 190.4,247.62 190.9,248.04 191.4,248.21 191.9,248.53 192.4,248.81 192.9,248.56 193.4,248.38 193.9,248.69 194.4,248.32 194.9,248.65 195.4,248.46 195.9,249.64 196.4,249.00 196.9,248.44 197.4,248.39 197.9,248.60 198.4,248.20 198.9,248.53 199.4,248.54 199.9,249.13 200.4,248.68 200.9,248.57 201.4,248.39 201.9,248.46 202.4,248.87 202.9,248.83 203.4,249.32 203.9,248.71 204.4,249.32 204.9,249.05 205.4,248.98 205.9,248.29 206.4,248.56 206.9,249.28 207.4,249.52 207.9,249.12 208.4,249.33 208.9,248.94 209.4,248.96 209.9,248.87 210.4,249.46 210.9,249.25 211.4,249.07 211.9,249.05 212.4,249.37 212.9,249.30 213.4,248.91 213.9,249.82 214.4,249.32 214.9,249.24 215.4,249.77 215.9,249.63 216.4,249.25 216.9,249.48 217.4,248.93 217.9,249.09 218.4,248.54 218.9,249.77 219.4,248.69 219.9,249.60 220.4,249.09 220.9,249.05 221.4,249.33 221.9,249.51 222.4,249.64 222.9,250.05 223.4,249.57 223.9,249.76 224.4,249.26 224.9,249.73 225.4,249.54 225.9,249.33 226.4,249.47 226.9,249.49 227.4,249.59 227.9,249.67 228.4,249.36 228.9,249.28 229.4,249.81 229.9,248.96 230.4,249.35 230.9,250.11 231.4,248.63 231.9,249.34 232.4,249.82 232.9,249.01 233.4,250.50 233.9,248.68 234.4,250.09 234.9,250.13 235.4,249.91 235.9,249.51 236.4,249.71 236.9,249.26 237.4,249.85 237.9,249.17 238.4,249.46 238.9,249.89 239.4,249.14 239.9,249.38 240.4,249.54 240.9,248.98 241.4,249.82 241.9,249.49 242.4,248.79 242.9,249.24 243.4,248.91 243.9,248.86 244.4,249.00 244.9,248.59 245.4,249.02 245.9,248.24 246.4,248.60 246.9,247.97 247.4,247.97 247.9,247.12 248.4,246.72 248.9,246.03 249.4,246.13 249.9,245.69 250.4,245.50 250.9,244.56 251.4,243.52 251.9,242.64 252.4,242.12 252.9,241.24 253.4,241.01 253.9,240.09 254.4,238.73 254.9,238.05 255.4,238.03 255.9,236.89 256.4,235.89 256.9,235.50 257.4,233.96 257.9,232.89 258.4,231.60 258.9,229.73 259.4,229.28 259.9,227.09 260.4,225.89 260.9,224.54 261.4,224.04 261.9,223.14 262.4,223.05 262.9,222.91 263.4,224.46 263.9,225.44 264.4,227.88 264.9,229.93 265.4,231.93 265.9,234.78 266.4,236.31 266.9,238.26 267.4,239.87 267.9,241.34 268.4,243.14 268.9,244.40 269.4,244.60 269.9,246.30 270.4,246.83 270.9,247.59 271.4,247.91 271.9,247.72 272.4,248.08 272.9,249.40 273.4,249.08 273.9,248.68 274.4,249.46 274.9,249.35 275.4,248.96 275.9,248.91 276.4,249.25 276.9,249.99 277.4,249.96 277.9,249.96 278.4,250.22 278.9,250.39 279.4,249.50 279.9,250.19 280.4,250.06 280.9,249.97 281.4,250.25 281.9,250.44 282.4,250.44 282.9,250.06 283.4,250.44 283.9,251.35 284.4,250.31 284.9,250.12 285.4,250.84 285.9,250.98 286.4,250.96 286.9,250.44 287.4,251.21 287.9,250.61 288.4,250.51 288.9,250.72 289.4,250.92 289.9,251.23 290.4,251.22 290.9,251.02 291.4,251.38 291.9,251.10 292.4,251.40 292.9,250.62 293.4,250.58 293.9,251.42 294.4,250.68 294.9,251.08 295.4,251.17 295.9,251.05 296.4,251.08 296.9,251.75 297.4,250.39 297.9,251.60 298.4,252.11 298.9,251.34 299.4,251.34 299.9,251.61 300.4,252.01 300.9,250.96 301.4,251.42 301.9,251.34 302.4,251.61 302.9,251.47 303.4,251.66 303.9,251.29 304.4,251.46 304.9,251.22 305.4,251.23 305.9,251.42 306.4,251.43 306.9,251.08 307.4,252.05 307.9,251.46 308.4,251.03 308.9,251.91 309.4,251.27 309.9,251.71 310.4,251.54 310.9,251.64 311.4,251.62 311.9,251.36 312.4,251.59 312.9,252.29 313.4,250.80 313.9,251.62 314.4,251.75 314.9,251.24 315.4,251.13 315.9,252.37 316.4,251.50 316.9,252.36 317.4,251.83 317.9,251.67 318.4,251.82 318.9,251.88 319.4,252.08 319.9,251.82 320.4,251.73 320.9,251.74 321.4,252.16 321.9,251.98 322.4,251.35 322.9,251.48 323.4,251.82 323.9,251.49 324.4,251.59 324.9,251.39 325.4,251.64 325.9,251.88 326.4,252.09 326.9,251.75 327.4,252.47 327.9,251.72 328.4,252.87 328.9,252.11 329.4,251.94 329.9,251.59 330.4,250.78 330.9,251.72 331.4,251.84 331.9,252.46 332.4,251.30 332.9,252.46 333.4,251.70 333.9,252.05 334.4,250.91 334.9,251.85 335.4,251.68 335.9,252.04 336.4,251.84 336.9,251.41 337.4,252.14 337.9,252.06 338.4,252.02 338.9,252.17 339.4,252.20 339.9,251.81 340.4,251.34 340.9,251.33 341.4,252.29 341.9,252.06 342.4,251.85 342.9,251.66 343.4,251.82 343.9,251.82 344.4,251.69 344.9,251.56 345.4,252.55 345.9,251.87 346.4,251.57 346.9,251.33 347.4,251.52 347.9,252.02 348.4,252.02 348.9,251.67 349.4,251.76 349.9,251.62 350.4,251.33 350.9,252.16 351.4,251.82 351.9,252.54 352.4,251.39 352.9,251.59 353.4,251.92 353.9,251.50 354.4,251.08 354.9,251.20 355.4,251.54 355.9,251.59 356.4,251.40 356.9,251.74 357.4,251.69 357.9,251.41 358.4,251.25 358.9,251.09 359.4,251.30 359.9,251.35 360.4,250.96 360.9,251.00 361.4,250.62 361.9,250.11 362.4,250.11 362.9,250.57 363.4,250.27 363.9,250.45 364.4,249.64 364.9,249.60 365.4,249.34 365.9,248.69 366.4,247.43 366.9,246.64 367.4,245.49 367.9,243.42 368.4,241.73 368.9,239.10 369.4,235.04 369.9,231.63 370.4,225.85 370.9,220.32 371.4,214.41 371.9,208.44 372.4,203.73 372.9,199.96 373.4,199.05 373.9,199.69 374.4,202.93 374.9,207.55 375.4,212.86 375.9,219.25 376.4,224.66 376.9,230.41 377.4,234.50 377.9,238.78 378.4,241.43 378.9,243.80 379.4,245.37 379.9,246.71 380.4,247.88 380.9,248.73 381.4,248.73 381.9,249.60 382.4,250.70 382.9,250.04 383.4,250.23 383.9,250.28 384.4,250.20 384.9,251.28 385.4,251.02 385.9,251.23 386.4,251.89 386.9,252.22 387.4,251.12 387.9,251.89 388.4,251.81 388.9,251.81 389.4,251.90 389.9,251.78 390.4,252.40 390.9,252.11 391.4,252.07 391.9,252.43 392.4,252.35 392.9,252.23 393.4,252.22 393.9,252.76 394.4,252.35 394.9,252.17 395.4,251.93 395.9,252.14 396.4,251.92 396.9,252.35 397.4,252.43 397.9,251.64 398.4,252.39 398.9,252.63 399.4,252.48 399.9,252.11 400.4,252.90 400.9,252.23 401.4,252.06 401.9,252.13 402.4,252.52 402.9,252.88 403.4,252.96 403.9,252.64 404.4,252.16 404.9,252.36 405.4,252.29 405.9,252.55 406.4,252.00 406.9,252.67 407.4,252.87 407.9,252.60 408.4,252.83 408.9,252.35 409.4,252.18 409.9,252.47 410.4,253.11 410.9,253.08 411.4,252.56 411.9,253.15 412.4,252.63 412.9,253.28 413.4,252.93 413.9,252.61 414.4,253.05 414.9,252.51 415.4,252.47 415.9,252.29 416.4,252.90 416.9,252.80 417.4,252.80 417.9,252.69 418.4,253.34 418.9,252.70 419.4,252.60 419.9,253.30 420.4,253.36 420.9,252.99 421.4,252.27 421.9,252.68 422.4,253.11 422.9,252.91 423.4,253.45 423.9,252.44 424.4,253.16 424.9,252.71 425.4,253.40 425.9,252.91 426.4,253.31 426.9,252.73 427.4,252.47 427.9,252.58 428.4,252.76 428.9,252.62 429.4,253.40 429.9,253.46 430.4,253.09 430.9,252.64 431.4,252.97 431.9,252.77 432.4,253.53 432.9,253.14 433.4,253.20 433.9,252.90 434.4,252.34 434.9,252.78 435.4,252.66 435.9,253.19 436.4,253.10 436.9,252.79 437.4,252.94 437.9,253.63 438.4,252.75 438.9,252.77 439.4,253.02 439.9,252.86 440.4,252.96 440.9,253.30 441.4,253.73 441.9,252.51 442.4,253.13 442.9,253.15 443.4,253.12 443.9,253.08 444.4,253.04 444.9,253.51 445.4,253.00 445.9,253.13 446.4,253.18 446.9,253.22 447.4,253.13 447.9,253.54 448.4,253.19 448.9,253.26 449.4,253.19 449.9,252.86 450.4,252.93 450.9,252.86 451.4,253.30 451.9,252.98 452.4,252.87 452.9,253.33 453.4,253.43 453.9,252.64 454.4,253.85 454.9,253.28 455.4,253.23 455.9,253.65 456.4,253.31 456.9,253.07 457.4,254.06 457.9,252.92 458.4,253.27 458.9,253.60 459.4,252.94 459.9,253.28 460.4,253.46 460.9,254.17 461.4,253.02 461.9,253.32 462.4,253.57 462.9,253.38 463.4,252.93 463.9,253.50 464.4,253.40 464.9,253.52 465.4,253.77 465.9,253.73 466.4,253.52 466.9,253.50 467.4,253.01 467.9,253.35 468.4,253.48 468.9,253.27 469.4,253.45 469.9,253.13 470.4,253.96 470.9,254.18 471.4,253.30 471.9,253.58 472.4,253.36 472.9,253.89 473.4,253.60 473.9,253.48 474.4,253.38 474.9,253.51 475.4,253.12 475.9,253.71 476.4,253.23 476.9,253.67 477.4,253.54 477.9,253.88 478.4,253.49 478.9,253.86 479.4,253.19 479.9,253.73 480.4,253.44 480.9,253.59 481.4,253.55 481.9,253.86 482.4,252.83 482.9,253.66 483.4,253.03 483.9,253.98 484.4,252.87 484.9,253.21" fill="none" stroke="#111" stroke-width="2.15" stroke-linejoin="round"/>
<polyline points="60.4,300.54 60.9,301.73 61.4,300.73 61.9,301.25 62.4,301.05 62.9,300.64 63.4,301.17 63.9,301.55 64.4,301.28 64.9,301.70 65.4,301.27 65.9,301.42 66.4,301.30 66.9,301.58 67.4,302.15 67.9,301.63 68.4,301.59 68.9,301.32 69.4,301.28 69.9,302.07 70.4,301.18 70.9,301.26 71.4,301.55 71.9,301.44 72.4,302.28 72.9,300.76 73.4,301.71 73.9,301.82 74.4,301.17 74.9,301.31 75.4,301.60 75.9,301.91 76.4,300.90 76.9,300.53 77.4,301.27 77.9,301.28 78.4,300.41 78.9,299.47 79.4,300.39 79.9,299.33 80.4,299.15 80.9,297.88 81.4,296.62 81.9,295.09 82.4,293.85 82.9,291.45 83.4,287.29 83.9,284.30 84.4,281.36 84.9,276.37 85.4,271.58 85.9,267.66 86.4,263.56 86.9,260.21 87.4,258.30 87.9,258.30 88.4,258.30 88.9,259.68 89.4,262.38 89.9,266.45 90.4,270.79 90.9,275.68 91.4,279.59 91.9,283.32 92.4,286.99 92.9,289.89 93.4,292.55 93.9,294.29 94.4,296.24 94.9,297.23 95.4,297.59 95.9,298.08 96.4,299.03 96.9,299.28 97.4,299.36 97.9,299.10 98.4,299.16 98.9,300.08 99.4,300.36 99.9,300.49 100.4,299.86 100.9,300.77 101.4,300.31 101.9,300.71 102.4,300.80 102.9,300.45 103.4,300.59 103.9,300.13 104.4,300.60 104.9,300.35 105.4,301.19 105.9,301.11 106.4,301.46 106.9,301.32 107.4,301.02 107.9,301.41 108.4,301.20 108.9,301.60 109.4,301.54 109.9,301.12 110.4,301.52 110.9,301.59 111.4,301.51 111.9,301.98 112.4,302.31 112.9,301.63 113.4,301.69 113.9,301.07 114.4,301.86 114.9,301.79 115.4,301.23 115.9,302.14 116.4,302.29 116.9,301.87 117.4,302.04 117.9,301.87 118.4,302.52 118.9,301.76 119.4,302.23 119.9,303.06 120.4,302.44 120.9,302.63 121.4,302.45 121.9,302.14 122.4,302.58 122.9,302.77 123.4,302.31 123.9,302.83 124.4,303.19 124.9,303.17 125.4,302.28 125.9,302.53 126.4,302.35 126.9,303.33 127.4,303.21 127.9,303.28 128.4,302.76 128.9,302.70 129.4,303.18 129.9,303.22 130.4,302.95 130.9,303.35 131.4,303.58 131.9,303.49 132.4,303.11 132.9,302.79 133.4,303.49 133.9,303.70 134.4,303.61 134.9,303.60 135.4,303.57 135.9,304.12 136.4,303.90 136.9,304.02 137.4,303.69 137.9,303.87 138.4,304.20 138.9,303.85 139.4,303.82 139.9,304.20 140.4,304.77 140.9,304.45 141.4,304.92 141.9,304.39 142.4,304.36 142.9,304.02 143.4,304.33 143.9,305.07 144.4,304.71 144.9,304.88 145.4,304.90 145.9,304.68 146.4,304.65 146.9,304.79 147.4,305.01 147.9,304.97 148.4,305.01 148.9,304.92 149.4,304.63 149.9,304.84 150.4,304.63 150.9,305.34 151.4,304.29 151.9,304.98 152.4,305.92 152.9,304.99 153.4,304.75 153.9,305.17 154.4,305.66 154.9,305.18 155.4,305.48 155.9,305.33 156.4,305.19 156.9,306.46 157.4,305.41 157.9,305.23 158.4,305.27 158.9,305.61 159.4,305.65 159.9,305.81 160.4,305.62 160.9,305.10 161.4,305.81 161.9,305.55 162.4,305.59 162.9,305.20 163.4,305.55 163.9,305.52 164.4,305.79 164.9,305.33 165.4,305.88 165.9,305.94 166.4,305.53 166.9,305.74 167.4,305.69 167.9,306.33 168.4,305.16 168.9,305.96 169.4,305.53 169.9,305.99 170.4,306.46 170.9,305.98 171.4,306.27 171.9,305.96 172.4,306.96 172.9,306.64 173.4,306.74 173.9,305.91 174.4,306.02 174.9,306.81 175.4,306.40 175.9,306.40 176.4,306.64 176.9,306.11 177.4,306.85 177.9,306.62 178.4,306.81 178.9,306.44 179.4,306.88 179.9,306.49 180.4,307.10 180.9,307.19 181.4,307.14 181.9,307.03 182.4,307.10 182.9,305.96 183.4,307.23 183.9,306.87 184.4,307.03 184.9,306.93 185.4,306.57 185.9,306.90 186.4,307.35 186.9,307.64 187.4,306.96 187.9,306.89 188.4,307.74 188.9,306.95 189.4,308.02 189.9,307.34 190.4,307.04 190.9,307.73 191.4,308.00 191.9,306.94 192.4,308.01 192.9,307.40 193.4,308.05 193.9,307.42 194.4,307.03 194.9,307.79 195.4,307.97 195.9,308.41 196.4,308.31 196.9,307.98 197.4,307.68 197.9,307.61 198.4,307.72 198.9,307.56 199.4,307.78 199.9,307.02 200.4,307.98 200.9,307.91 201.4,308.83 201.9,308.20 202.4,307.77 202.9,308.14 203.4,307.52 203.9,307.75 204.4,307.31 204.9,308.47 205.4,308.18 205.9,307.57 206.4,307.97 206.9,308.33 207.4,308.17 207.9,308.14 208.4,307.71 208.9,307.79 209.4,308.06 209.9,308.35 210.4,307.74 210.9,307.65 211.4,308.45 211.9,307.72 212.4,308.43 212.9,308.15 213.4,308.37 213.9,308.68 214.4,308.32 214.9,308.35 215.4,307.76 215.9,307.85 216.4,308.32 216.9,308.64 217.4,308.59 217.9,308.92 218.4,308.22 218.9,308.19 219.4,308.47 219.9,308.13 220.4,308.11 220.9,307.76 221.4,308.48 221.9,307.76 222.4,308.32 222.9,307.65 223.4,308.53 223.9,307.79 224.4,308.45 224.9,307.60 225.4,308.00 225.9,308.57 226.4,307.88 226.9,308.18 227.4,307.99 227.9,307.35 228.4,308.27 228.9,308.31 229.4,307.77 229.9,308.36 230.4,307.88 230.9,307.80 231.4,308.16 231.9,307.91 232.4,308.95 232.9,307.60 233.4,308.40 233.9,308.48 234.4,307.43 234.9,307.51 235.4,308.31 235.9,307.94 236.4,308.23 236.9,308.48 237.4,307.94 237.9,307.68 238.4,307.09 238.9,308.10 239.4,307.68 239.9,308.09 240.4,308.04 240.9,307.46 241.4,308.52 241.9,308.26 242.4,308.14 242.9,307.37 243.4,307.58 243.9,307.45 244.4,307.40 244.9,307.04 245.4,307.44 245.9,307.20 246.4,307.04 246.9,306.50 247.4,306.85 247.9,306.14 248.4,304.75 248.9,305.08 249.4,304.84 249.9,304.71 250.4,303.75 250.9,303.23 251.4,302.52 251.9,302.41 252.4,301.45 252.9,300.83 253.4,300.24 253.9,300.18 254.4,299.32 254.9,298.48 255.4,298.86 255.9,297.97 256.4,297.90 256.9,297.40 257.4,297.11 257.9,296.36 258.4,294.96 258.9,294.12 259.4,292.61 259.9,292.39 260.4,290.59 260.9,289.50 261.4,287.50 261.9,285.60 262.4,285.78 262.9,284.53 263.4,284.25 263.9,284.43 264.4,285.35 264.9,286.47 265.4,287.25 265.9,289.94 266.4,291.25 266.9,293.19 267.4,295.84 267.9,297.34 268.4,298.56 268.9,299.54 269.4,301.60 269.9,302.91 270.4,303.72 270.9,304.18 271.4,305.08 271.9,305.53 272.4,306.56 272.9,307.19 273.4,307.61 273.9,307.28 274.4,307.86 274.9,308.17 275.4,307.97 275.9,308.25 276.4,309.17 276.9,308.61 277.4,308.95 277.9,308.58 278.4,308.83 278.9,308.30 279.4,308.96 279.9,309.45 280.4,309.83 280.9,309.58 281.4,309.45 281.9,309.29 282.4,309.11 282.9,309.31 283.4,309.63 283.9,309.18 284.4,309.82 284.9,309.19 285.4,308.95 285.9,309.26 286.4,309.07 286.9,309.20 287.4,310.11 287.9,309.68 288.4,309.86 288.9,310.22 289.4,310.29 289.9,309.70 290.4,310.37 290.9,310.07 291.4,309.96 291.9,310.14 292.4,309.51 292.9,309.76 293.4,310.03 293.9,310.30 294.4,309.98 294.9,310.09 295.4,310.50 295.9,310.68 296.4,310.48 296.9,310.67 297.4,310.11 297.9,310.17 298.4,310.41 298.9,310.21 299.4,310.16 299.9,310.94 300.4,310.30 300.9,310.04 301.4,310.56 301.9,311.04 302.4,310.43 302.9,310.84 303.4,310.27 303.9,310.25 304.4,310.19 304.9,310.39 305.4,311.09 305.9,310.05 306.4,311.03 306.9,310.11 307.4,310.39 307.9,310.77 308.4,310.70 308.9,310.59 309.4,309.92 309.9,310.63 310.4,310.15 310.9,311.41 311.4,310.44 311.9,310.59 312.4,310.13 312.9,310.37 313.4,310.09 313.9,310.89 314.4,310.46 314.9,310.75 315.4,310.32 315.9,310.39 316.4,311.02 316.9,310.23 317.4,309.95 317.9,310.72 318.4,310.19 318.9,310.44 319.4,310.91 319.9,310.31 320.4,310.91 320.9,310.37 321.4,311.13 321.9,311.08 322.4,310.45 322.9,310.55 323.4,310.33 323.9,310.70 324.4,311.03 324.9,310.13 325.4,310.96 325.9,310.18 326.4,310.34 326.9,310.02 327.4,311.39 327.9,310.67 328.4,310.74 328.9,310.42 329.4,311.03 329.9,309.93 330.4,310.67 330.9,311.44 331.4,310.53 331.9,310.68 332.4,310.91 332.9,310.39 333.4,310.68 333.9,311.01 334.4,310.74 334.9,310.81 335.4,310.56 335.9,310.79 336.4,310.70 336.9,311.19 337.4,310.93 337.9,310.60 338.4,309.82 338.9,310.93 339.4,310.94 339.9,310.36 340.4,309.98 340.9,310.28 341.4,311.00 341.9,310.30 342.4,310.51 342.9,310.74 343.4,311.09 343.9,310.65 344.4,310.62 344.9,310.46 345.4,311.22 345.9,311.01 346.4,310.60 346.9,310.14 347.4,310.34 347.9,310.82 348.4,310.35 348.9,310.91 349.4,310.71 349.9,310.68 350.4,310.79 350.9,310.72 351.4,310.23 351.9,310.40 352.4,311.32 352.9,310.06 353.4,310.29 353.9,310.81 354.4,310.36 354.9,310.10 355.4,309.90 355.9,310.51 356.4,310.65 356.9,310.74 357.4,310.23 357.9,310.53 358.4,309.75 358.9,310.12 359.4,309.76 359.9,309.99 360.4,310.11 360.9,310.13 361.4,309.31 361.9,309.99 362.4,309.26 362.9,308.92 363.4,309.06 363.9,308.41 364.4,308.70 364.9,308.52 365.4,308.00 365.9,307.82 366.4,306.94 366.9,306.29 367.4,304.75 367.9,303.90 368.4,301.77 368.9,299.56 369.4,296.71 369.9,293.16 370.4,288.20 370.9,283.32 371.4,278.44 371.9,273.30 372.4,268.25 372.9,264.48 373.4,262.41 373.9,262.13 374.4,264.17 374.9,267.78 375.4,272.83 375.9,278.42 376.4,284.01 376.9,288.91 377.4,293.16 377.9,296.76 378.4,300.01 378.9,302.23 379.4,304.08 379.9,305.47 380.4,306.21 380.9,306.82 381.4,307.93 381.9,308.36 382.4,308.49 382.9,308.71 383.4,309.89 383.9,309.03 384.4,309.39 384.9,309.71 385.4,309.34 385.9,309.91 386.4,310.60 386.9,310.40 387.4,310.38 387.9,310.44 388.4,310.34 388.9,310.71 389.4,310.38 389.9,310.34 390.4,310.57 390.9,310.90 391.4,310.74 391.9,310.90 392.4,310.00 392.9,311.16 393.4,311.59 393.9,311.27 394.4,310.72 394.9,310.56 395.4,310.98 395.9,310.56 396.4,311.19 396.9,310.77 397.4,311.31 397.9,311.47 398.4,310.30 398.9,311.13 399.4,310.80 399.9,310.57 400.4,310.87 400.9,311.03 401.4,311.49 401.9,310.62 402.4,311.54 402.9,311.90 403.4,311.42 403.9,311.42 404.4,311.24 404.9,310.85 405.4,311.47 405.9,311.43 406.4,311.57 406.9,312.23 407.4,311.60 407.9,311.51 408.4,311.93 408.9,310.92 409.4,311.01 409.9,311.29 410.4,311.21 410.9,311.70 411.4,311.36 411.9,312.09 412.4,312.03 412.9,311.78 413.4,311.39 413.9,311.76 414.4,311.84 414.9,311.20 415.4,311.71 415.9,311.84 416.4,311.69 416.9,312.17 417.4,312.06 417.9,311.36 418.4,311.71 418.9,311.38 419.4,311.89 419.9,311.40 420.4,312.04 420.9,311.86 421.4,312.08 421.9,311.70 422.4,311.25 422.9,312.39 423.4,311.73 423.9,312.28 424.4,311.96 424.9,312.06 425.4,312.48 425.9,311.97 426.4,312.35 426.9,311.35 427.4,312.19 427.9,311.81 428.4,311.86 428.9,311.93 429.4,312.06 429.9,312.53 430.4,311.31 430.9,311.98 431.4,311.73 431.9,312.40 432.4,311.86 432.9,312.18 433.4,311.89 433.9,312.27 434.4,312.41 434.9,311.92 435.4,312.09 435.9,311.59 436.4,312.20 436.9,312.41 437.4,311.92 437.9,312.52 438.4,311.42 438.9,311.51 439.4,311.68 439.9,312.01 440.4,312.19 440.9,312.17 441.4,312.19 441.9,312.47 442.4,312.07 442.9,311.80 443.4,311.82 443.9,313.00 444.4,311.45 444.9,312.23 445.4,312.81 445.9,312.48 446.4,312.03 446.9,312.33 447.4,312.65 447.9,312.78 448.4,312.05 448.9,312.64 449.4,312.48 449.9,312.78 450.4,312.90 450.9,312.30 451.4,311.92 451.9,312.58 452.4,313.08 452.9,312.70 453.4,312.56 453.9,313.33 454.4,312.13 454.9,312.82 455.4,312.32 455.9,312.55 456.4,312.57 456.9,313.08 457.4,312.23 457.9,312.39 458.4,312.03 458.9,312.77 459.4,312.45 459.9,312.76 460.4,312.25 460.9,312.51 461.4,313.01 461.9,312.60 462.4,312.89 462.9,312.87 463.4,312.57 463.9,312.16 464.4,313.06 464.9,312.78 465.4,313.08 465.9,312.04 466.4,312.18 466.9,312.02 467.4,312.47 467.9,313.15 468.4,313.00 468.9,312.80 469.4,312.87 469.9,313.10 470.4,312.74 470.9,312.99 471.4,312.91 471.9,312.11 472.4,312.75 472.9,313.37 473.4,312.77 473.9,312.87 474.4,312.72 474.9,312.77 475.4,313.34 475.9,312.87 476.4,312.61 476.9,311.89 477.4,312.79 477.9,312.32 478.4,312.38 478.9,313.30 479.4,313.28 479.9,312.38 480.4,313.36 480.9,313.23 481.4,312.80 481.9,313.35 482.4,312.53 482.9,312.69 483.4,312.62 483.9,312.74 484.4,313.45 484.9,312.69" fill="none" stroke="#111" stroke-width="2.15" stroke-linejoin="round"/>
<line x1="87.6" y1="17.2" x2="87.6" y2="316.5" stroke="#222" stroke-width="1.3" stroke-dasharray="3.8,2.9"/>
<line x1="254.6" y1="17.2" x2="254.6" y2="316.5" stroke="#222" stroke-width="1.3" stroke-dasharray="3.8,2.9"/>
<line x1="263.6" y1="17.2" x2="263.6" y2="316.5" stroke="#222" stroke-width="1.3" stroke-dasharray="3.8,2.9"/>
<line x1="374.0" y1="17.2" x2="374.0" y2="316.5" stroke="#222" stroke-width="1.3" stroke-dasharray="3.8,2.9"/>
<rect x="59.65" y="16.2" width="426.35" height="301.3" fill="none" stroke="#000" stroke-width="2.1"/>
<line x1="59.65" y1="76.45" x2="486.0" y2="76.45" stroke="#000" stroke-width="2.1"/>
<line x1="59.65" y1="136.6" x2="486.0" y2="136.6" stroke="#000" stroke-width="2.1"/>
<line x1="59.65" y1="197.2" x2="486.0" y2="197.2" stroke="#000" stroke-width="2.1"/>
<line x1="59.65" y1="257.5" x2="486.0" y2="257.5" stroke="#000" stroke-width="2.1"/>
<path d="M53.4,76.45H59.65 M55.9,64.40H59.65 M53.4,52.35H59.65 M55.9,40.30H59.65 M53.4,28.25H59.65 M55.9,16.20H59.65 M53.4,136.60H59.65 M55.9,124.57H59.65 M53.4,112.54H59.65 M55.9,100.51H59.65 M53.4,88.48H59.65 M53.4,197.20H59.65 M55.9,185.08H59.65 M53.4,172.96H59.65 M55.9,160.84H59.65 M53.4,148.72H59.65 M53.4,257.50H59.65 M55.9,245.44H59.65 M53.4,233.38H59.65 M55.9,221.32H59.65 M53.4,209.26H59.65 M53.4,317.50H59.65 M55.9,305.50H59.65 M53.4,293.50H59.65 M55.9,281.50H59.65 M53.4,269.50H59.65 M59.65,76.45V82.75 M95.18,76.45V80.25 M130.71,76.45V82.75 M166.24,76.45V80.25 M201.77,76.45V82.75 M237.30,76.45V80.25 M272.82,76.45V82.75 M308.35,76.45V80.25 M343.88,76.45V82.75 M379.41,76.45V80.25 M414.94,76.45V82.75 M450.47,76.45V80.25 M486.00,76.45V82.75 M59.65,136.6V142.90 M95.18,136.6V140.40 M130.71,136.6V142.90 M166.24,136.6V140.40 M201.77,136.6V142.90 M237.30,136.6V140.40 M272.82,136.6V142.90 M308.35,136.6V140.40 M343.88,136.6V142.90 M379.41,136.6V140.40 M414.94,136.6V142.90 M450.47,136.6V140.40 M486.00,136.6V142.90 M59.65,197.2V203.50 M95.18,197.2V201.00 M130.71,197.2V203.50 M166.24,197.2V201.00 M201.77,197.2V203.50 M237.30,197.2V201.00 M272.82,197.2V203.50 M308.35,197.2V201.00 M343.88,197.2V203.50 M379.41,197.2V201.00 M414.94,197.2V203.50 M450.47,197.2V201.00 M486.00,197.2V203.50 M59.65,257.5V263.80 M95.18,257.5V261.30 M130.71,257.5V263.80 M166.24,257.5V261.30 M201.77,257.5V263.80 M237.30,257.5V261.30 M272.82,257.5V263.80 M308.35,257.5V261.30 M343.88,257.5V263.80 M379.41,257.5V261.30 M414.94,257.5V263.80 M450.47,257.5V261.30 M486.00,257.5V263.80 M59.65,317.5V323.80 M95.18,317.5V321.30 M130.71,317.5V323.80 M166.24,317.5V321.30 M201.77,317.5V323.80 M237.30,317.5V321.30 M272.82,317.5V323.80 M308.35,317.5V321.30 M343.88,317.5V323.80 M379.41,317.5V321.30 M414.94,317.5V323.80 M450.47,317.5V321.30 M486.00,317.5V323.80" stroke="#000" stroke-width="1.8" fill="none"/>
</g>
<rect x="155.1" y="79.8" width="58.099999999999994" height="33.7" fill="#fff" stroke="#888" stroke-width="0.9"/>
<polyline points="160.21,103.95 160.45,103.99 160.68,105.71 160.91,104.24 161.14,105.93 161.37,102.41 161.61,100.73 161.84,101.63 162.07,102.11 162.30,99.85 162.54,101.67 162.77,104.15 163.00,99.38 163.23,100.26 163.47,102.46 163.70,98.57 163.93,98.01 164.16,97.37 164.40,99.96 164.63,99.99 164.86,98.59 165.09,98.79 165.33,100.92 165.56,100.04 165.79,95.71 166.02,98.18 166.26,98.30 166.49,99.36 166.72,97.54 166.95,96.69 167.18,96.97 167.42,94.45 167.65,97.63 167.88,96.50 168.11,98.41 168.35,95.57 168.58,96.58 168.81,95.49 169.04,95.24 169.28,98.42 169.51,96.16 169.74,97.74 169.97,94.74 170.21,96.88 170.44,93.45 170.67,95.58 170.90,95.42 171.14,97.32 171.37,96.46 171.60,95.69 171.83,97.45 172.07,96.14 172.30,96.67 172.53,96.98 172.76,95.32 172.99,94.79 173.23,95.83 173.46,94.34 173.69,95.71 173.92,96.93 174.16,96.35 174.39,93.95 174.62,92.17 174.85,94.33 175.09,94.09 175.32,96.25 175.55,93.37 175.78,93.56 176.02,95.17 176.25,92.78 176.48,93.22 176.71,96.53 176.95,95.95 177.18,94.19 177.41,93.35 177.64,90.89 177.88,93.55 178.11,92.46 178.34,92.59 178.57,91.05 178.80,91.82 179.04,91.34 179.27,92.09 179.50,93.98 179.73,91.84 179.97,87.94 180.20,89.05 180.43,87.76 180.66,89.07 180.90,91.42 181.13,90.98 181.36,88.99 181.59,90.45 181.83,88.42 182.06,87.06 182.29,86.95 182.52,87.83 182.76,91.91 182.99,86.67 183.22,91.31 183.45,91.33 183.69,88.40 183.92,88.52 184.15,87.34 184.38,88.29 184.61,89.43 184.85,88.10 185.08,89.82 185.31,90.06 185.54,88.41 185.78,88.29 186.01,87.49 186.24,88.16 186.47,85.39 186.71,88.14 186.94,87.70 187.17,85.66 187.40,91.17 187.64,85.32 187.87,85.44 188.10,87.52 188.33,83.38 188.57,85.49 188.80,84.13 189.03,85.19 189.26,86.77 189.50,87.66 189.73,89.18 189.96,88.72 190.19,89.51 190.42,88.50 190.66,86.63 190.89,89.65 191.12,86.77 191.35,86.63 191.59,90.69 191.82,89.42 192.05,88.47 192.28,89.57 192.52,89.92 192.75,85.89 192.98,88.36 193.21,86.48 193.45,89.02 193.68,87.69 193.91,91.58 194.14,90.16 194.38,87.83 194.61,89.44 194.84,87.36 195.07,89.82 195.31,90.89 195.54,90.50 195.77,86.57 196.00,89.66 196.23,91.36 196.47,91.13 196.70,92.86 196.93,88.49 197.16,92.01 197.40,90.00 197.63,91.74 197.86,92.31 198.09,93.01 198.33,90.86 198.56,92.46 198.79,90.13 199.02,89.87 199.26,93.70 199.49,92.75 199.72,90.04 199.95,91.65 200.19,93.44 200.42,96.48 200.65,95.72 200.88,95.46 201.12,90.89 201.35,94.24 201.58,95.55 201.81,95.65 202.04,95.96 202.28,95.05 202.51,99.04 202.74,98.83 202.97,96.23 203.21,94.91 203.44,100.84 203.67,96.33 203.90,99.88 204.14,101.52 204.37,96.57 204.60,99.22 204.83,98.42 205.07,100.42 205.30,100.50 205.53,103.96 205.76,101.93 206.00,101.32 206.23,103.89 206.46,101.70 206.69,101.88 206.93,107.00" fill="none" stroke="#222" stroke-width="0.9"/>
<path d="M155.10,113.5v-1.2 M166.54,113.5v-1.2 M177.97,113.5v-1.2 M189.41,113.5v-1.2 M200.85,113.5v-1.2 M212.29,113.5v-1.2" stroke="#888" stroke-width="0.5"/>
<text x="155.10" y="117.10" font-family="Liberation Sans,sans-serif" font-weight="bold" font-size="3.3" fill="#333" text-anchor="middle">0</text>
<text x="166.54" y="117.10" font-family="Liberation Sans,sans-serif" font-weight="bold" font-size="3.3" fill="#333" text-anchor="middle">5</text>
<text x="177.97" y="117.10" font-family="Liberation Sans,sans-serif" font-weight="bold" font-size="3.3" fill="#333" text-anchor="middle">10</text>
<text x="189.41" y="117.10" font-family="Liberation Sans,sans-serif" font-weight="bold" font-size="3.3" fill="#333" text-anchor="middle">15</text>
<text x="200.85" y="117.10" font-family="Liberation Sans,sans-serif" font-weight="bold" font-size="3.3" fill="#333" text-anchor="middle">20</text>
<text x="212.29" y="117.10" font-family="Liberation Sans,sans-serif" font-weight="bold" font-size="3.3" fill="#333" text-anchor="middle">25</text>
<text x="183.65" y="120.70" font-family="Liberation Sans,sans-serif" font-weight="bold" font-size="3.8" fill="#222" text-anchor="middle">ω (deg.)</text>
<text transform="translate(151.98,109.88) rotate(-90) scale(0.673,1)" font-family='"Liberation Sans",Arial,sans-serif' font-weight="bold" font-size="5.35" fill="#222">Intensity (a.u.)</text>
<rect x="153.9" y="143.3" width="58.0" height="34.29999999999998" fill="#fff" stroke="#888" stroke-width="0.9"/>
<polyline points="159.17,169.07 159.40,169.29 159.63,169.68 159.86,168.65 160.09,167.66 160.33,170.28 160.56,168.60 160.79,168.69 161.02,168.71 161.25,168.07 161.49,167.87 161.72,168.81 161.95,170.61 162.18,169.06 162.41,168.95 162.65,166.89 162.88,168.04 163.11,166.93 163.34,168.48 163.57,167.51 163.81,167.61 164.04,167.38 164.27,166.83 164.50,165.90 164.73,167.57 164.97,165.76 165.20,165.79 165.43,166.41 165.66,165.92 165.89,166.60 166.13,167.09 166.36,166.29 166.59,166.08 166.82,165.77 167.05,166.33 167.29,163.84 167.52,165.57 167.75,164.28 167.98,163.85 168.21,164.74 168.45,164.23 168.68,164.90 168.91,165.17 169.14,162.06 169.37,163.82 169.61,165.39 169.84,164.28 170.07,164.61 170.30,163.27 170.53,161.76 170.77,161.82 171.00,163.17 171.23,163.15 171.46,161.45 171.69,161.58 171.93,161.76 172.16,159.74 172.39,160.64 172.62,162.01 172.85,162.16 173.09,159.85 173.32,161.15 173.55,158.76 173.78,158.13 174.01,156.53 174.25,158.89 174.48,157.37 174.71,159.32 174.94,157.22 175.17,156.72 175.41,154.64 175.64,157.11 175.87,155.16 176.10,154.99 176.33,152.92 176.57,155.29 176.80,155.05 177.03,153.40 177.26,153.73 177.49,153.73 177.73,153.97 177.96,153.01 178.19,154.18 178.42,152.29 178.65,151.79 178.89,151.73 179.12,149.78 179.35,151.09 179.58,152.47 179.81,151.65 180.05,150.55 180.28,151.37 180.51,149.17 180.74,150.48 180.97,151.00 181.21,150.97 181.44,149.55 181.67,150.86 181.90,151.58 182.13,149.53 182.37,150.47 182.60,148.47 182.83,148.12 183.06,150.35 183.29,149.91 183.53,150.11 183.76,149.54 183.99,149.91 184.22,151.01 184.45,151.96 184.69,150.50 184.92,149.48 185.15,152.20 185.38,151.83 185.61,152.11 185.85,151.89 186.08,153.93 186.31,152.21 186.54,152.80 186.77,150.98 187.01,152.28 187.24,152.39 187.47,153.16 187.70,153.70 187.93,152.97 188.17,155.31 188.40,153.14 188.63,153.89 188.86,154.72 189.09,153.68 189.33,155.49 189.56,155.79 189.79,155.25 190.02,157.40 190.25,156.10 190.49,156.54 190.72,155.75 190.95,155.42 191.18,156.61 191.41,157.16 191.65,157.34 191.88,158.68 192.11,156.26 192.34,157.63 192.57,157.32 192.81,160.33 193.04,158.98 193.27,159.32 193.50,159.10 193.73,161.11 193.97,160.27 194.20,161.11 194.43,159.46 194.66,162.50 194.89,162.13 195.13,162.56 195.36,163.44 195.59,162.51 195.82,162.83 196.05,163.89 196.29,163.94 196.52,163.67 196.75,164.22 196.98,164.06 197.21,165.41 197.45,165.91 197.68,165.42 197.91,167.34 198.14,164.72 198.37,166.15 198.61,168.14 198.84,166.62 199.07,165.92 199.30,168.80 199.53,168.39 199.77,167.20 200.00,169.20 200.23,167.95 200.46,167.97 200.69,169.27 200.93,169.26 201.16,169.00 201.39,169.89 201.62,169.60 201.85,170.76 202.09,170.93 202.32,171.82 202.55,171.02 202.78,170.48 203.01,170.70 203.25,171.83 203.48,173.57 203.71,173.18 203.94,172.10 204.17,173.64 204.41,171.99 204.64,174.01 204.87,172.95 205.10,174.06 205.33,174.05" fill="none" stroke="#222" stroke-width="1.0"/>
<path d="M153.90,177.6v-1.2 M165.32,177.6v-1.2 M176.73,177.6v-1.2 M188.15,177.6v-1.2 M199.57,177.6v-1.2 M210.99,177.6v-1.2" stroke="#888" stroke-width="0.5"/>
<text x="153.90" y="181.20" font-family="Liberation Sans,sans-serif" font-weight="bold" font-size="3.3" fill="#333" text-anchor="middle">0</text>
<text x="165.32" y="181.20" font-family="Liberation Sans,sans-serif" font-weight="bold" font-size="3.3" fill="#333" text-anchor="middle">5</text>
<text x="176.73" y="181.20" font-family="Liberation Sans,sans-serif" font-weight="bold" font-size="3.3" fill="#333" text-anchor="middle">10</text>
<text x="188.15" y="181.20" font-family="Liberation Sans,sans-serif" font-weight="bold" font-size="3.3" fill="#333" text-anchor="middle">15</text>
<text x="199.57" y="181.20" font-family="Liberation Sans,sans-serif" font-weight="bold" font-size="3.3" fill="#333" text-anchor="middle">20</text>
<text x="210.99" y="181.20" font-family="Liberation Sans,sans-serif" font-weight="bold" font-size="3.3" fill="#333" text-anchor="middle">25</text>
<text x="182.40" y="184.80" font-family="Liberation Sans,sans-serif" font-weight="bold" font-size="3.8" fill="#222" text-anchor="middle">ω (deg.)</text>
<text transform="translate(150.78,173.68) rotate(-90) scale(0.673,1)" font-family='"Liberation Sans",Arial,sans-serif' font-weight="bold" font-size="5.35" fill="#222">Intensity (a.u.)</text>
<rect x="153.9" y="203.6" width="58.0" height="34.0" fill="#fff" stroke="#888" stroke-width="0.9"/>
<polyline points="159.17,231.34 159.40,231.69 159.63,231.23 159.86,231.75 160.09,232.36 160.33,233.72 160.56,232.44 160.79,232.29 161.02,231.93 161.25,232.84 161.49,231.76 161.72,232.12 161.95,232.58 162.18,231.90 162.41,232.96 162.65,232.69 162.88,231.89 163.11,231.75 163.34,231.27 163.57,231.05 163.81,231.60 164.04,231.48 164.27,231.17 164.50,230.94 164.73,230.41 164.97,230.60 165.20,229.67 165.43,230.10 165.66,230.53 165.89,230.30 166.13,229.40 166.36,229.29 166.59,229.84 166.82,229.85 167.05,228.36 167.29,228.65 167.52,228.78 167.75,229.04 167.98,228.06 168.21,228.51 168.45,227.95 168.68,228.85 168.91,227.83 169.14,227.36 169.37,227.02 169.61,227.30 169.84,226.84 170.07,225.80 170.30,225.98 170.53,224.98 170.77,224.83 171.00,224.20 171.23,223.75 171.46,223.56 171.69,222.98 171.93,223.14 172.16,222.79 172.39,221.91 172.62,221.11 172.85,221.46 173.09,219.86 173.32,219.47 173.55,220.14 173.78,219.69 174.01,219.40 174.25,218.51 174.48,217.68 174.71,217.59 174.94,217.64 175.17,216.70 175.41,216.35 175.64,215.68 175.87,215.40 176.10,215.85 176.33,215.33 176.57,214.31 176.80,214.01 177.03,213.89 177.26,214.03 177.49,213.01 177.73,213.13 177.96,212.03 178.19,212.12 178.42,212.54 178.65,212.48 178.89,211.39 179.12,211.31 179.35,211.73 179.58,211.03 179.81,210.75 180.05,210.96 180.28,210.62 180.51,210.79 180.74,210.45 180.97,209.69 181.21,209.68 181.44,209.51 181.67,208.80 181.90,208.77 182.13,209.39 182.37,208.17 182.60,209.05 182.83,208.62 183.06,208.34 183.29,208.54 183.53,208.48 183.76,208.77 183.99,208.14 184.22,208.27 184.45,208.35 184.69,209.36 184.92,209.17 185.15,208.66 185.38,209.21 185.61,209.43 185.85,210.15 186.08,210.72 186.31,212.10 186.54,210.96 186.77,212.69 187.01,213.02 187.24,213.12 187.47,213.92 187.70,214.35 187.93,215.16 188.17,216.12 188.40,215.63 188.63,217.31 188.86,217.12 189.09,218.36 189.33,218.37 189.56,219.14 189.79,219.28 190.02,219.87 190.25,219.83 190.49,219.85 190.72,220.84 190.95,221.22 191.18,222.14 191.41,220.80 191.65,221.87 191.88,222.70 192.11,222.06 192.34,222.78 192.57,224.03 192.81,224.02 193.04,223.34 193.27,224.54 193.50,224.69 193.73,224.76 193.97,224.82 194.20,224.98 194.43,224.75 194.66,225.11 194.89,225.84 195.13,225.82 195.36,226.74 195.59,226.07 195.82,225.44 196.05,226.51 196.29,226.98 196.52,227.24 196.75,227.33 196.98,227.19 197.21,228.35 197.45,227.69 197.68,228.47 197.91,228.29 198.14,228.13 198.37,229.42 198.61,228.04 198.84,228.93 199.07,229.67 199.30,229.55 199.53,230.21 199.77,230.07 200.00,230.13 200.23,231.39 200.46,230.61 200.69,230.83 200.93,230.64 201.16,230.97 201.39,231.72 201.62,231.87 201.85,231.82 202.09,231.71 202.32,232.45 202.55,231.65 202.78,232.39 203.01,232.60 203.25,232.54 203.48,233.12 203.71,232.96 203.94,233.08 204.17,234.29 204.41,234.00 204.64,234.32 204.87,233.97 205.10,234.45 205.33,234.47" fill="none" stroke="#555" stroke-width="0.7"/>
<path d="M153.90,237.6v-1.2 M165.32,237.6v-1.2 M176.73,237.6v-1.2 M188.15,237.6v-1.2 M199.57,237.6v-1.2 M210.99,237.6v-1.2" stroke="#888" stroke-width="0.5"/>
<text x="153.90" y="241.20" font-family="Liberation Sans,sans-serif" font-weight="bold" font-size="3.3" fill="#333" text-anchor="middle">0</text>
<text x="165.32" y="241.20" font-family="Liberation Sans,sans-serif" font-weight="bold" font-size="3.3" fill="#333" text-anchor="middle">5</text>
<text x="176.73" y="241.20" font-family="Liberation Sans,sans-serif" font-weight="bold" font-size="3.3" fill="#333" text-anchor="middle">10</text>
<text x="188.15" y="241.20" font-family="Liberation Sans,sans-serif" font-weight="bold" font-size="3.3" fill="#333" text-anchor="middle">15</text>
<text x="199.57" y="241.20" font-family="Liberation Sans,sans-serif" font-weight="bold" font-size="3.3" fill="#333" text-anchor="middle">20</text>
<text x="210.99" y="241.20" font-family="Liberation Sans,sans-serif" font-weight="bold" font-size="3.3" fill="#333" text-anchor="middle">25</text>
<text x="182.40" y="244.80" font-family="Liberation Sans,sans-serif" font-weight="bold" font-size="3.8" fill="#222" text-anchor="middle">ω (deg.)</text>
<text transform="translate(150.78,233.83) rotate(-90) scale(0.673,1)" font-family='"Liberation Sans",Arial,sans-serif' font-weight="bold" font-size="5.35" fill="#222">Intensity (a.u.)</text>
<rect x="155.2" y="262.0" width="58.30000000000001" height="34.0" fill="#fff" stroke="#888" stroke-width="0.9"/>
<polyline points="160.56,289.96 160.80,290.42 161.03,289.34 161.26,289.51 161.50,289.36 161.73,287.92 161.96,288.75 162.20,289.30 162.43,289.51 162.66,288.99 162.90,289.65 163.13,289.67 163.36,288.95 163.60,289.66 163.83,289.76 164.06,289.20 164.29,288.57 164.53,289.54 164.76,288.84 164.99,288.72 165.23,288.88 165.46,288.58 165.69,289.20 165.93,289.04 166.16,289.16 166.39,288.83 166.63,288.19 166.86,288.36 167.09,288.68 167.33,288.05 167.56,289.28 167.79,287.86 168.03,287.57 168.26,288.12 168.49,287.79 168.73,287.30 168.96,287.03 169.19,287.09 169.43,287.06 169.66,286.83 169.89,286.19 170.12,286.26 170.36,286.20 170.59,285.92 170.82,284.09 171.06,284.72 171.29,284.49 171.52,284.42 171.76,284.28 171.99,284.27 172.22,283.83 172.46,283.19 172.69,282.90 172.92,283.25 173.16,281.91 173.39,281.92 173.62,282.06 173.86,281.20 174.09,279.85 174.32,280.47 174.56,279.79 174.79,279.53 175.02,279.64 175.26,279.03 175.49,278.35 175.72,278.44 175.95,277.87 176.19,277.35 176.42,277.03 176.65,276.62 176.89,275.98 177.12,275.53 177.35,275.32 177.59,274.51 177.82,273.97 178.05,274.60 178.29,273.55 178.52,273.21 178.75,272.74 178.99,272.38 179.22,271.95 179.45,271.55 179.69,270.77 179.92,271.07 180.15,270.02 180.39,270.37 180.62,268.82 180.85,268.85 181.09,269.39 181.32,268.64 181.55,268.17 181.78,268.36 182.02,267.56 182.25,267.82 182.48,266.71 182.72,267.27 182.95,267.04 183.18,267.38 183.42,267.37 183.65,266.51 183.88,267.39 184.12,266.39 184.35,265.71 184.58,265.53 184.82,267.10 185.05,266.43 185.28,266.23 185.52,266.24 185.75,266.17 185.98,267.27 186.22,266.82 186.45,267.75 186.68,267.15 186.92,266.52 187.15,268.12 187.38,267.92 187.61,268.29 187.85,269.34 188.08,268.92 188.31,269.84 188.55,269.70 188.78,269.75 189.01,270.62 189.25,270.53 189.48,271.66 189.71,271.93 189.95,271.95 190.18,272.57 190.41,272.94 190.65,272.99 190.88,273.86 191.11,273.79 191.35,274.53 191.58,274.28 191.81,275.11 192.05,275.64 192.28,275.55 192.51,276.10 192.75,276.46 192.98,277.38 193.21,277.20 193.44,278.08 193.68,278.94 193.91,278.87 194.14,278.49 194.38,279.61 194.61,280.41 194.84,280.29 195.08,281.28 195.31,281.49 195.54,281.83 195.78,281.96 196.01,282.27 196.24,282.78 196.48,283.32 196.71,283.91 196.94,284.27 197.18,284.38 197.41,284.92 197.64,285.45 197.88,285.02 198.11,285.76 198.34,286.14 198.58,286.76 198.81,287.10 199.04,287.45 199.27,287.51 199.51,288.44 199.74,288.55 199.97,288.02 200.21,288.92 200.44,288.66 200.67,290.00 200.91,289.28 201.14,289.45 201.37,289.76 201.61,289.73 201.84,289.86 202.07,290.56 202.31,290.06 202.54,290.34 202.77,290.48 203.01,289.64 203.24,290.74 203.47,290.34 203.71,290.45 203.94,289.71 204.17,290.38 204.41,290.20 204.64,289.79 204.87,290.91 205.10,290.18 205.34,289.81 205.57,289.95 205.80,290.20 206.04,290.26 206.27,290.00 206.50,290.23 206.74,290.31 206.97,289.18 207.20,289.46" fill="none" stroke="#222" stroke-width="0.9"/>
<path d="M155.20,296.0v-1.2 M166.68,296.0v-1.2 M178.15,296.0v-1.2 M189.63,296.0v-1.2 M201.11,296.0v-1.2 M212.58,296.0v-1.2" stroke="#888" stroke-width="0.5"/>
<text x="155.20" y="299.60" font-family="Liberation Sans,sans-serif" font-weight="bold" font-size="3.3" fill="#333" text-anchor="middle">0</text>
<text x="166.68" y="299.60" font-family="Liberation Sans,sans-serif" font-weight="bold" font-size="3.3" fill="#333" text-anchor="middle">5</text>
<text x="178.15" y="299.60" font-family="Liberation Sans,sans-serif" font-weight="bold" font-size="3.3" fill="#333" text-anchor="middle">10</text>
<text x="189.63" y="299.60" font-family="Liberation Sans,sans-serif" font-weight="bold" font-size="3.3" fill="#333" text-anchor="middle">15</text>
<text x="201.11" y="299.60" font-family="Liberation Sans,sans-serif" font-weight="bold" font-size="3.3" fill="#333" text-anchor="middle">20</text>
<text x="212.58" y="299.60" font-family="Liberation Sans,sans-serif" font-weight="bold" font-size="3.3" fill="#333" text-anchor="middle">25</text>
<text x="183.85" y="303.20" font-family="Liberation Sans,sans-serif" font-weight="bold" font-size="3.8" fill="#222" text-anchor="middle">ω (deg.)</text>
<text transform="translate(152.08,292.23) rotate(-90) scale(0.673,1)" font-family='"Liberation Sans",Arial,sans-serif' font-weight="bold" font-size="5.35" fill="#222">Intensity (a.u.)</text>
<text transform="translate(9.29,26.40) scale(1.000,1)" font-family='"Liberation Serif","Times New Roman",serif' font-weight="bold" font-size="25.82" fill="#000"  stroke="#000" stroke-width="0.5" stroke-linejoin="round">(a)</text>
<text transform="translate(66.48,9.40) scale(1.021,1)" font-family='"Liberation Sans",Arial,sans-serif' font-weight="bold" font-size="12.30" fill="#000" stroke="#000" stroke-width="0.6" stroke-linejoin="round">FePt (001)</text>
<text transform="translate(223.86,10.50) scale(1.048,1)" font-family='"Liberation Sans",Arial,sans-serif' font-weight="bold" font-size="12.30" fill="#000" stroke="#000" stroke-width="0.6" stroke-linejoin="round">FePt (200)+(002)</text>
<text transform="translate(345.89,10.50) scale(1.042,1)" font-family='"Liberation Sans",Arial,sans-serif' font-weight="bold" font-size="12.30" fill="#000" stroke="#000" stroke-width="0.6" stroke-linejoin="round">CrRu (200)</text>
<text transform="translate(411.06,53.23) scale(1.116,1)" font-family='"Liberation Sans",Arial,sans-serif' font-weight="bold" font-size="11.55" fill="#000"  stroke="#000" stroke-width="0.5" stroke-linejoin="round">40 W</text>
<text transform="translate(411.93,114.13) scale(1.067,1)" font-family='"Liberation Sans",Arial,sans-serif' font-weight="bold" font-size="11.97" fill="#000"  stroke="#000" stroke-width="0.5" stroke-linejoin="round">30 W</text>
<text transform="translate(412.82,173.22) scale(0.967,1)" font-family='"Liberation Sans",Arial,sans-serif' font-weight="bold" font-size="12.82" fill="#000"  stroke="#000" stroke-width="0.5" stroke-linejoin="round">20 W</text>
<text transform="translate(414.47,236.24) scale(1.137,1)" font-family='"Liberation Sans",Arial,sans-serif' font-weight="bold" font-size="11.41" fill="#000"  stroke="#000" stroke-width="0.5" stroke-linejoin="round">10 W</text>
<text transform="translate(416.26,280.05) scale(1.196,1)" font-family='"Liberation Sans",Arial,sans-serif' font-weight="bold" font-size="10.28" fill="#000"  stroke="#000" stroke-width="0.5" stroke-linejoin="round">0 W</text>
<text transform="translate(51.27,337.91) scale(1.088,1)" font-family='"Liberation Sans",Arial,sans-serif' font-weight="bold" font-size="13.94" fill="#000"  stroke="#000" stroke-width="0.5" stroke-linejoin="round">20</text>
<text transform="translate(122.48,337.91) scale(1.077,1)" font-family='"Liberation Sans",Arial,sans-serif' font-weight="bold" font-size="13.94" fill="#000"  stroke="#000" stroke-width="0.5" stroke-linejoin="round">30</text>
<text transform="translate(193.69,337.91) scale(1.067,1)" font-family='"Liberation Sans",Arial,sans-serif' font-weight="bold" font-size="13.94" fill="#000"  stroke="#000" stroke-width="0.5" stroke-linejoin="round">40</text>
<text transform="translate(264.52,337.91) scale(1.083,1)" font-family='"Liberation Sans",Arial,sans-serif' font-weight="bold" font-size="13.94" fill="#000"  stroke="#000" stroke-width="0.5" stroke-linejoin="round">50</text>
<text transform="translate(335.50,337.91) scale(1.088,1)" font-family='"Liberation Sans",Arial,sans-serif' font-weight="bold" font-size="13.94" fill="#000"  stroke="#000" stroke-width="0.5" stroke-linejoin="round">60</text>
<text transform="translate(406.48,337.91) scale(1.093,1)" font-family='"Liberation Sans",Arial,sans-serif' font-weight="bold" font-size="13.94" fill="#000"  stroke="#000" stroke-width="0.5" stroke-linejoin="round">70</text>
<text transform="translate(477.70,337.91) scale(1.083,1)" font-family='"Liberation Sans",Arial,sans-serif' font-weight="bold" font-size="13.94" fill="#000"  stroke="#000" stroke-width="0.5" stroke-linejoin="round">80</text>
<text transform="translate(238.37,360.01) scale(1.226,1)" font-family='"Liberation Sans",Arial,sans-serif' font-weight="bold" font-size="18.29" fill="#000"  stroke="#000" stroke-width="0.7" stroke-linejoin="round">2θ(Deg.)</text>
<text transform="translate(31.76,247.92) rotate(-90) scale(1.011,1)" font-family='"Liberation Sans",Arial,sans-serif' font-weight="bold" font-size="22.35" fill="#000" stroke="#000" stroke-width="0.7" stroke-linejoin="round">Intensity (a. u.)</text>
<rect x="64.1" y="409.2" width="434.70000000000005" height="323.09999999999997" fill="none" stroke="#000" stroke-width="2"/>
<path d="M57.1,732.30H64.1 M60.1,691.91H64.1 M57.1,651.52H64.1 M60.1,611.14H64.1 M57.1,570.75H64.1 M60.1,530.36H64.1 M57.1,489.97H64.1 M60.1,449.59H64.1 M57.1,409.20H64.1 M64.10,732.3V739.80 M112.40,732.3V736.80 M160.70,732.3V739.80 M209.00,732.3V736.80 M257.30,732.3V739.80 M305.60,732.3V736.80 M353.90,732.3V739.80 M402.20,732.3V736.80 M450.50,732.3V739.80 M498.80,732.3V736.80" stroke="#000" stroke-width="1.8" fill="none"/>
<path d="M70.34,489.42L154.36,513.98 M165.84,519.65L251.96,582.95 M262.81,590.09L348.19,640.11 M359.29,646.88L444.91,701.12" stroke="#000" stroke-width="1.6" fill="none"/>
<clipPath id="cb"><rect x="64.1" y="409.2" width="434.70000000000005" height="323.09999999999997"/></clipPath>
<rect clip-path="url(#cb)"  x="60.35" y="483.85" width="7.5" height="7.5" fill="#fff" stroke="#000" stroke-width="1.6"/>
<rect clip-path="url(#cb)"  x="156.85" y="512.05" width="7.5" height="7.5" fill="#fff" stroke="#000" stroke-width="1.6"/>
<rect clip-path="url(#cb)"  x="253.45" y="583.05" width="7.5" height="7.5" fill="#fff" stroke="#000" stroke-width="1.6"/>
<rect clip-path="url(#cb)"  x="350.05" y="639.65" width="7.5" height="7.5" fill="#fff" stroke="#000" stroke-width="1.6"/>
<rect clip-path="url(#cb)"  x="446.65" y="700.85" width="7.5" height="7.5" fill="#fff" stroke="#000" stroke-width="1.6"/>
<line x1="64.1" y1="408.2" x2="64.1" y2="733.3" stroke="#000" stroke-width="2"/>
<text transform="translate(12.70,385.80) scale(0.993,1)" font-family='"Liberation Serif","Times New Roman",serif' font-weight="bold" font-size="25.82" fill="#000"  stroke="#000" stroke-width="0.5" stroke-linejoin="round">(b)</text>
<text transform="translate(31.12,413.25) scale(1.111,1)" font-family='"Liberation Sans",Arial,sans-serif' font-weight="bold" font-size="14.65" fill="#000"  stroke="#000" stroke-width="0.6" stroke-linejoin="round">1.0</text>
<text transform="translate(31.46,494.03) scale(1.086,1)" font-family='"Liberation Sans",Arial,sans-serif' font-weight="bold" font-size="14.65" fill="#000"  stroke="#000" stroke-width="0.6" stroke-linejoin="round">0.8</text>
<text transform="translate(31.46,574.80) scale(1.090,1)" font-family='"Liberation Sans",Arial,sans-serif' font-weight="bold" font-size="14.65" fill="#000"  stroke="#000" stroke-width="0.6" stroke-linejoin="round">0.6</text>
<text transform="translate(31.48,655.58) scale(1.066,1)" font-family='"Liberation Sans",Arial,sans-serif' font-weight="bold" font-size="14.65" fill="#000"  stroke="#000" stroke-width="0.6" stroke-linejoin="round">0.4</text>
<text transform="translate(31.46,736.35) scale(1.094,1)" font-family='"Liberation Sans",Arial,sans-serif' font-weight="bold" font-size="14.65" fill="#000"  stroke="#000" stroke-width="0.6" stroke-linejoin="round">0.2</text>
<text transform="translate(59.89,754.85) scale(1.035,1)" font-family='"Liberation Sans",Arial,sans-serif' font-weight="bold" font-size="14.65" fill="#000"  stroke="#000" stroke-width="0.6" stroke-linejoin="round">0</text>
<text transform="translate(151.86,754.85) scale(1.068,1)" font-family='"Liberation Sans",Arial,sans-serif' font-weight="bold" font-size="14.65" fill="#000"  stroke="#000" stroke-width="0.6" stroke-linejoin="round">10</text>
<text transform="translate(248.87,754.85) scale(1.042,1)" font-family='"Liberation Sans",Arial,sans-serif' font-weight="bold" font-size="14.65" fill="#000"  stroke="#000" stroke-width="0.6" stroke-linejoin="round">20</text>
<text transform="translate(345.62,754.85) scale(1.032,1)" font-family='"Liberation Sans",Arial,sans-serif' font-weight="bold" font-size="14.65" fill="#000"  stroke="#000" stroke-width="0.6" stroke-linejoin="round">30</text>
<text transform="translate(442.38,754.85) scale(1.022,1)" font-family='"Liberation Sans",Arial,sans-serif' font-weight="bold" font-size="14.65" fill="#000"  stroke="#000" stroke-width="0.6" stroke-linejoin="round">40</text>
<text transform="translate(227.51,780.68) scale(1.023,1)" font-family='"Liberation Sans",Arial,sans-serif' font-weight="bold" font-size="23.21" fill="#000"  stroke="#000" stroke-width="0.7" stroke-linejoin="round">Bias (W)</text>
<text transform="translate(18.60,593.37) rotate(-90) scale(0.967,1)" font-family='"Liberation Sans",Arial,sans-serif' font-weight="bold" font-size="24.65" fill="#000" stroke="#000" stroke-width="0.7" stroke-linejoin="round">S</text>
</svg>
</body></html>
